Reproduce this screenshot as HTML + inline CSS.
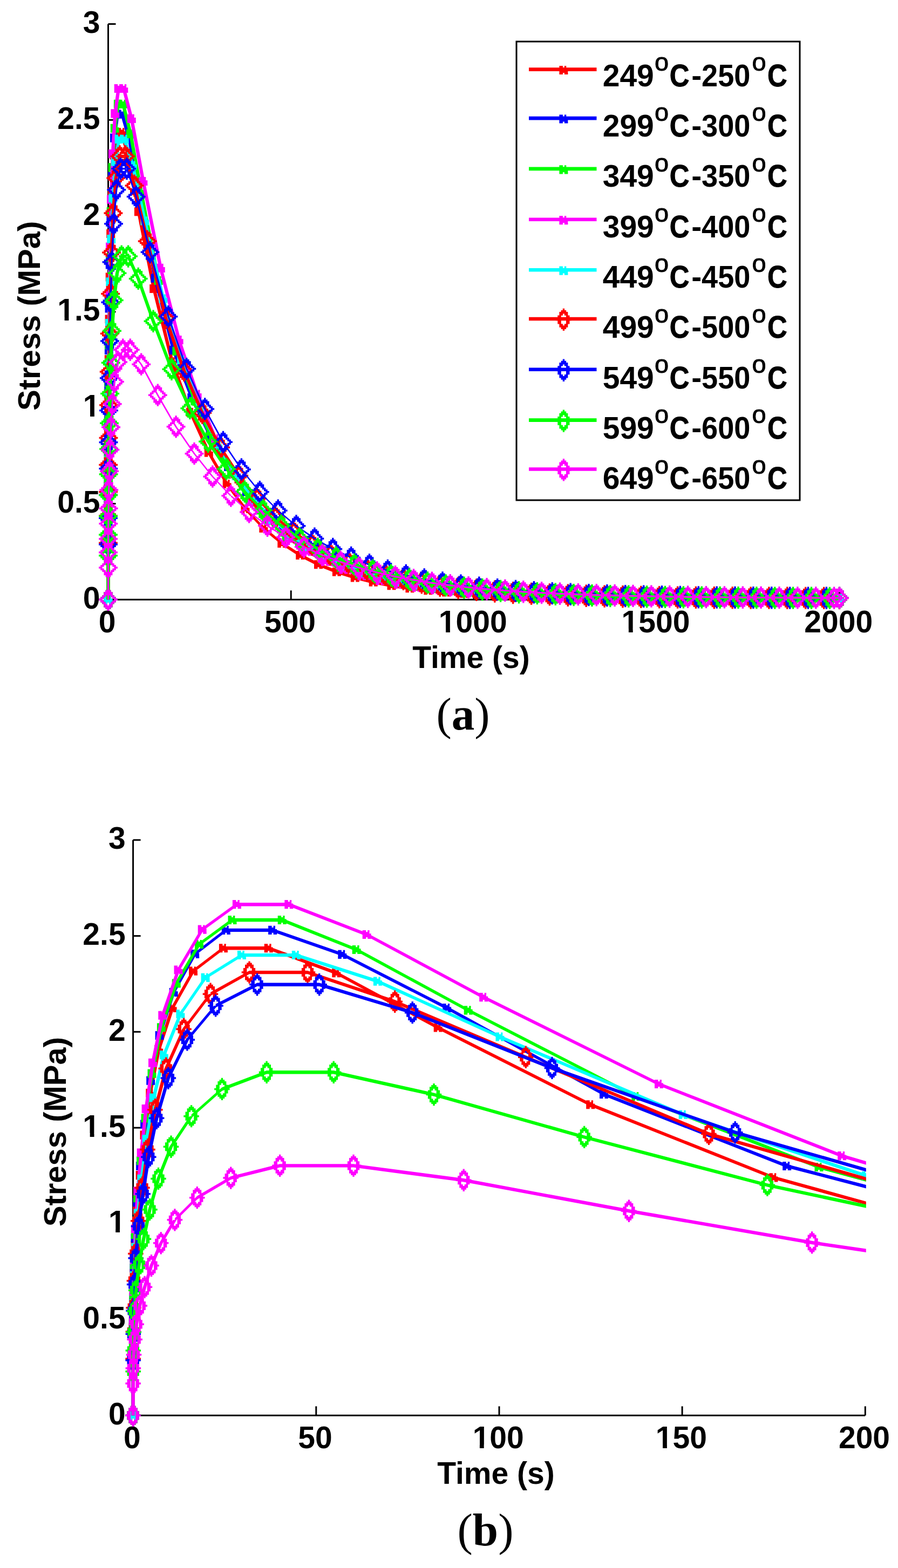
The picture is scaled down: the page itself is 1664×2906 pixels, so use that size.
<!DOCTYPE html>
<html><head><meta charset="utf-8"><title>Stress vs time</title><style>
html,body{margin:0;padding:0;background:#fff;}
body{width:1664px;height:2906px;overflow:hidden;}
svg{display:block;}
.ln{fill:none;stroke-width:6;stroke-linejoin:round;}

.ax{fill:none;stroke:#000;stroke-width:3;}
text{font-family:"Liberation Sans",Arial,Helvetica,sans-serif;font-weight:bold;fill:#000;}
.tk{font-size:57px;}
.lb{font-size:57px;}
.lby{font-size:58px;}
.lg{font-size:57px;}
.lgc{stroke:#000;stroke-width:1px;}
.dg{font-size:47px;font-weight:normal;stroke:#000;stroke-width:0.9px;}
.cap{font-family:"Liberation Serif","Times New Roman",serif;font-size:85px;font-weight:normal;}
.cap tspan.b{font-weight:bold;}
</style></head><body>
<svg width="1664" height="2906" viewBox="0 0 1664 2906">
<defs><clipPath id="c0" clipPathUnits="userSpaceOnUse"><rect x="143.8" y="692.2" width="51.7" height="73.7"/><rect x="167.1" y="765.4" width="7.8" height="25.8"/></clipPath><clipPath id="c1" clipPathUnits="userSpaceOnUse"><rect x="96.3" y="514.4" width="99.2" height="73.7"/><rect x="119.6" y="587.6" width="7.8" height="25.8"/><rect x="137" y="587.6" width="17.8" height="25.8"/><rect x="152.8" y="587.6" width="33.7" height="25.8"/></clipPath><clipPath id="c2" clipPathUnits="userSpaceOnUse"><rect x="802.8" y="1091.8" width="146.8" height="73.7"/><rect x="826.1" y="1165" width="7.8" height="25.8"/><rect x="843.5" y="1165" width="33.7" height="25.8"/><rect x="875.2" y="1165" width="33.7" height="25.8"/><rect x="906.9" y="1165" width="33.7" height="25.8"/></clipPath><clipPath id="c3" clipPathUnits="userSpaceOnUse"><rect x="1141.5" y="1091.8" width="146.8" height="73.7"/><rect x="1164.9" y="1165" width="7.8" height="25.8"/><rect x="1182.2" y="1165" width="33.7" height="25.8"/><rect x="1214" y="1165" width="33.7" height="25.8"/><rect x="1245.7" y="1165" width="33.7" height="25.8"/></clipPath><clipPath id="c4" clipPathUnits="userSpaceOnUse"><rect x="190.9" y="2204.3" width="51.7" height="73.7"/><rect x="214.2" y="2277.5" width="7.8" height="25.8"/></clipPath><clipPath id="c5" clipPathUnits="userSpaceOnUse"><rect x="143.4" y="2026.6" width="99.2" height="73.7"/><rect x="166.7" y="2099.7" width="7.8" height="25.8"/><rect x="184.1" y="2099.7" width="17.8" height="25.8"/><rect x="199.9" y="2099.7" width="33.7" height="25.8"/></clipPath><clipPath id="c6" clipPathUnits="userSpaceOnUse"><rect x="865.6" y="2603.8" width="115.1" height="73.7"/><rect x="888.9" y="2677" width="7.8" height="25.8"/><rect x="906.3" y="2677" width="33.7" height="25.8"/><rect x="938" y="2677" width="33.7" height="25.8"/></clipPath><clipPath id="c7" clipPathUnits="userSpaceOnUse"><rect x="1204.8" y="2603.8" width="115.1" height="73.7"/><rect x="1228.1" y="2677" width="7.8" height="25.8"/><rect x="1245.5" y="2677" width="33.7" height="25.8"/><rect x="1277.2" y="2677" width="33.7" height="25.8"/></clipPath></defs>
<defs><path id="mk" d="M-8 -8.1h6.5v3.5h-6.5ZM1.5 -8.1h3.4v3.5h-3.4ZM-8 -4.9h12.8v3.5h-12.8ZM-8 -1.8h15.9v3.5h-15.9ZM-8 1.4h15.9v3.5h-15.9ZM-8 4.5h6.5v3.5h-6.5ZM1.5 4.5h6.5v3.5h-6.5Z"/><path id="md" d="M-1.7 -20.7h3.4v3.5h-3.4ZM-4.8 -17.5h9.6v3.5h-9.6ZM-8 -14.4h15.9v3.5h-15.9ZM-8 -11.2h6.5v3.5h-6.5ZM1.5 -11.2h6.5v3.5h-6.5ZM-11.1 -8.1h6.5v3.5h-6.5ZM4.6 -8.1h6.5v3.5h-6.5ZM-11.1 -4.9h6.5v3.5h-6.5ZM4.6 -4.9h6.5v3.5h-6.5ZM-14.3 -1.8h9.6v3.5h-9.6ZM4.6 -1.8h9.6v3.5h-9.6ZM-11.1 1.4h6.5v3.5h-6.5ZM4.6 1.4h6.5v3.5h-6.5ZM-11.1 4.5h6.5v3.5h-6.5ZM4.6 4.5h6.5v3.5h-6.5ZM-8 7.7h6.5v3.5h-6.5ZM1.5 7.7h6.5v3.5h-6.5ZM-8 10.8h15.9v3.5h-15.9ZM-4.8 14h9.6v3.5h-9.6ZM-1.7 17.1h3.4v3.5h-3.4Z"/><path id="mda" d="M-1.7 -20.7h3.4v3.5h-3.4ZM-4.8 -17.5h9.6v3.5h-9.6ZM-8 -14.4h15.9v3.5h-15.9ZM-8 -11.2h6.5v3.5h-6.5ZM1.5 -11.2h6.5v3.5h-6.5ZM-11.1 -8.1h6.5v3.5h-6.5ZM4.6 -8.1h6.5v3.5h-6.5ZM-14.3 -4.9h6.5v3.5h-6.5ZM7.8 -4.9h6.5v3.5h-6.5ZM-17.4 -1.8h6.5v3.5h-6.5ZM10.9 -1.8h6.5v3.5h-6.5ZM-14.3 1.4h6.5v3.5h-6.5ZM7.8 1.4h6.5v3.5h-6.5ZM-11.1 4.5h6.5v3.5h-6.5ZM4.6 4.5h6.5v3.5h-6.5ZM-8 7.7h6.5v3.5h-6.5ZM1.5 7.7h6.5v3.5h-6.5ZM-8 10.8h15.9v3.5h-15.9ZM-4.8 14h9.6v3.5h-9.6ZM-1.7 17.1h3.4v3.5h-3.4Z"/>
<clipPath id="cb"><rect x="0" y="1400" width="1604.8" height="1300"/></clipPath></defs>
<rect width="1664" height="2906" fill="#fff"/>
<path class="ax" d="M200.5 44.5V1111.3H1555.5"/>
<path class="ax" d="M200.5 1111.3h14"/>
<text class="tk" x="185.5" y="1127.8" text-anchor="end">0</text>
<path class="ax" d="M200.5 933.5h14"/>
<text class="tk" x="185.5" y="950" text-anchor="end">0.5</text>
<path class="ax" d="M200.5 755.7h14"/>
<text class="tk" x="185.5" y="772.2" text-anchor="end" clip-path="url(#c0)">1</text>
<path class="ax" d="M200.5 577.9h14"/>
<text class="tk" x="185.5" y="594.4" text-anchor="end" clip-path="url(#c1)">1.5</text>
<path class="ax" d="M200.5 400.1h14"/>
<text class="tk" x="185.5" y="416.6" text-anchor="end">2</text>
<path class="ax" d="M200.5 222.3h14"/>
<text class="tk" x="185.5" y="238.8" text-anchor="end">2.5</text>
<path class="ax" d="M200.5 44.5h14"/>
<text class="tk" x="185.5" y="61" text-anchor="end">3</text>
<path class="ax" d="M200.5 1111.3v-17"/>
<text class="tk" x="198.7" y="1171.8" text-anchor="middle">0</text>
<path class="ax" d="M539.2 1111.3v-17"/>
<text class="tk" x="537.5" y="1171.8" text-anchor="middle">500</text>
<path class="ax" d="M878 1111.3v-17"/>
<text class="tk" x="876.2" y="1171.8" text-anchor="middle" clip-path="url(#c2)">1000</text>
<path class="ax" d="M1216.8 1111.3v-17"/>
<text class="tk" x="1215" y="1171.8" text-anchor="middle" clip-path="url(#c3)">1500</text>
<path class="ax" d="M1555.5 1111.3v-17"/>
<text class="tk" x="1553.7" y="1171.8" text-anchor="middle">2000</text>
<text class="lby" transform="translate(74.2 585.4) rotate(-90)" text-anchor="middle">Stress (MPa)</text>
<text class="lb" x="873" y="1237.8" text-anchor="middle">Time (s)</text>
<g fill="#ff0000"><path d="M197.3 1111.3L197.3 1000.4L203.7 1000.4L203.7 1111.3ZM197.3 1000.4L197.3 947.6L203.7 947.6L203.7 1000.4ZM197.3 947.6L197.4 900.8L203.8 900.8L203.7 947.6ZM197.4 900.8L197.5 848L203.9 848L203.8 900.8ZM197.5 848L197.7 795.1L204.1 795.1L203.9 848ZM197.7 795.1L198 731L204.4 731L204.1 795.1ZM198 731L198.6 666.1L205 666.1L204.4 731ZM198.6 666.1L199.4 591.6L205.8 591.6L205 666.1ZM199.4 591.6L200.5 513.6L206.9 513.6L205.8 591.6ZM200.5 513.6L202 433L208.4 433L206.9 513.6ZM202 433L204.6 355.9L211 355.9L208.4 433ZM204.6 355.9L208.4 287.5L214.8 287.5L211 355.9ZM208.4 287.5L214 245.1L220.4 245.1L214.8 287.5ZM217.2 241.9L225.6 241.9L225.6 248.3L217.2 248.3ZM222.4 245.1L234.9 291L241.3 291L228.8 245.1ZM234.9 291L253.7 392.3L260.1 392.3L241.3 291ZM253.7 392.3L282 535.1L288.4 535.1L260.1 392.3ZM282 535.1L315.8 670.3L322.2 670.3L288.4 535.1ZM315.8 670.3L349.7 764.1L356.1 764.1L322.2 670.3ZM349.7 764.1L383.6 838.7L390 838.7L356.1 764.1ZM383.6 838.7L417.5 897.1L423.9 897.1L390 838.7ZM417.5 897.1L451.3 943L457.7 943L423.9 897.1ZM451.3 943L485.2 978.9L491.6 978.9L457.7 943ZM488.4 975.7L522.3 1003.8L522.3 1010.2L488.4 982.1ZM522.3 1003.8L556.2 1025.8L556.2 1032.2L522.3 1010.2ZM556.2 1025.8L590 1043.1L590 1049.5L556.2 1032.2ZM590 1043.1L623.9 1056.6L623.9 1063L590 1049.5ZM623.9 1056.6L657.8 1067.2L657.8 1073.6L623.9 1063ZM657.8 1067.2L691.7 1075.5L691.7 1081.9L657.8 1073.6ZM691.7 1075.5L725.5 1082L725.5 1088.4L691.7 1081.9ZM725.5 1082L759.4 1087.1L759.4 1093.5L725.5 1088.4ZM759.4 1087.1L793.3 1091.1L793.3 1097.5L759.4 1093.5ZM793.3 1091.1L827.2 1094.3L827.2 1100.7L793.3 1097.5ZM827.2 1094.3L861 1096.7L861 1103.1L827.2 1100.7ZM861 1096.7L894.9 1098.6L894.9 1105L861 1103.1ZM894.9 1098.6L928.8 1100.2L928.8 1106.6L894.9 1105ZM928.8 1100.2L962.7 1101.3L962.7 1107.7L928.8 1106.6ZM962.7 1101.3L996.5 1102.3L996.5 1108.7L962.7 1107.7ZM996.5 1102.3L1030.4 1103L1030.4 1109.4L996.5 1108.7ZM1030.4 1103L1064.3 1103.6L1064.3 1110L1030.4 1109.4ZM1064.3 1103.6L1098.2 1104L1098.2 1110.4L1064.3 1110ZM1098.2 1104L1132 1104.3L1132 1110.7L1098.2 1110.4ZM1132 1104.3L1165.9 1104.6L1165.9 1111L1132 1110.7ZM1165.9 1104.6L1199.8 1104.8L1199.8 1111.2L1165.9 1111ZM1199.8 1104.8L1233.7 1105L1233.7 1111.4L1199.8 1111.2ZM1233.7 1105L1267.5 1105.1L1267.5 1111.5L1233.7 1111.4ZM1267.5 1105.1L1301.4 1105.2L1301.4 1111.6L1267.5 1111.5ZM1301.4 1105.2L1335.3 1105.3L1335.3 1111.7L1301.4 1111.6ZM1335.3 1105.3L1369.2 1105.4L1369.2 1111.8L1335.3 1111.7ZM1369.2 1105.4L1403 1105.4L1403 1111.8L1369.2 1111.8ZM1403 1105.4L1436.9 1105.5L1436.9 1111.9L1403 1111.8ZM1436.9 1105.5L1470.8 1105.5L1470.8 1111.9L1436.9 1111.9ZM1470.8 1105.5L1504.7 1105.5L1504.7 1111.9L1470.8 1111.9ZM1504.7 1105.5L1538.5 1105.5L1538.5 1111.9L1504.7 1111.9ZM1538.5 1105.5L1555.5 1105.6L1555.5 1112L1538.5 1111.9Z"/><g class="ms"><use href="#mk" x="200.5" y="1111.3"/><use href="#mk" x="200.5" y="1000.4"/><use href="#mk" x="200.5" y="947.6"/><use href="#mk" x="200.6" y="900.8"/><use href="#mk" x="200.7" y="848"/><use href="#mk" x="200.9" y="795.1"/><use href="#mk" x="201.2" y="731"/><use href="#mk" x="201.8" y="666.1"/><use href="#mk" x="202.6" y="591.6"/><use href="#mk" x="203.7" y="513.6"/><use href="#mk" x="205.2" y="433"/><use href="#mk" x="207.8" y="355.9"/><use href="#mk" x="211.6" y="287.5"/><use href="#mk" x="217.2" y="245.1"/><use href="#mk" x="225.6" y="245.1"/><use href="#mk" x="238.1" y="291"/><use href="#mk" x="256.9" y="392.3"/><use href="#mk" x="285.2" y="535.1"/><use href="#mk" x="319" y="670.3"/><use href="#mk" x="352.9" y="764.1"/><use href="#mk" x="386.8" y="838.7"/><use href="#mk" x="420.7" y="897.1"/><use href="#mk" x="454.5" y="943"/><use href="#mk" x="488.4" y="978.9"/><use href="#mk" x="522.3" y="1007"/><use href="#mk" x="556.2" y="1029"/><use href="#mk" x="590" y="1046.3"/><use href="#mk" x="623.9" y="1059.8"/><use href="#mk" x="657.8" y="1070.4"/><use href="#mk" x="691.7" y="1078.7"/><use href="#mk" x="725.5" y="1085.2"/><use href="#mk" x="759.4" y="1090.3"/><use href="#mk" x="793.3" y="1094.3"/><use href="#mk" x="827.2" y="1097.5"/><use href="#mk" x="861" y="1099.9"/><use href="#mk" x="894.9" y="1101.8"/><use href="#mk" x="928.8" y="1103.4"/><use href="#mk" x="962.7" y="1104.5"/><use href="#mk" x="996.5" y="1105.5"/><use href="#mk" x="1030.4" y="1106.2"/><use href="#mk" x="1064.3" y="1106.8"/><use href="#mk" x="1098.2" y="1107.2"/><use href="#mk" x="1132" y="1107.5"/><use href="#mk" x="1165.9" y="1107.8"/><use href="#mk" x="1199.8" y="1108"/><use href="#mk" x="1233.7" y="1108.2"/><use href="#mk" x="1267.5" y="1108.3"/><use href="#mk" x="1301.4" y="1108.4"/><use href="#mk" x="1335.3" y="1108.5"/><use href="#mk" x="1369.2" y="1108.6"/><use href="#mk" x="1403" y="1108.6"/><use href="#mk" x="1436.9" y="1108.7"/><use href="#mk" x="1470.8" y="1108.7"/><use href="#mk" x="1504.7" y="1108.7"/><use href="#mk" x="1538.5" y="1108.7"/><use href="#mk" x="1555.5" y="1108.8"/></g></g>
<g fill="#0000ff"><path d="M197.3 1111.3L197.3 996.1L203.7 996.1L203.7 1111.3ZM197.3 996.1L197.3 941.3L203.7 941.3L203.7 996.1ZM197.3 941.3L197.4 892.7L203.8 892.7L203.7 941.3ZM197.4 892.7L197.5 837.8L203.9 837.8L203.8 892.7ZM197.5 837.8L197.7 782.9L204.1 782.9L203.9 837.8ZM197.7 782.9L198.1 716.3L204.5 716.3L204.1 782.9ZM198.1 716.3L198.7 648.9L205.1 648.9L204.5 716.3ZM198.7 648.9L199.4 571.5L205.8 571.5L205.1 648.9ZM199.4 571.5L200.6 490.5L207 490.5L205.8 571.5ZM200.6 490.5L202.2 406.9L208.6 406.9L207 490.5ZM202.2 406.9L204.8 326.8L211.2 326.8L208.6 406.9ZM204.8 326.8L208.8 255.7L215.2 255.7L211.2 326.8ZM208.8 255.7L214.5 211.6L220.9 211.6L215.2 255.7ZM217.7 208.4L226.3 208.4L226.3 214.8L217.7 214.8ZM223.1 211.6L236 256.6L242.4 256.6L229.5 211.6ZM236 256.6L255.4 355.8L261.8 355.8L242.4 256.6ZM255.4 355.8L284.4 515.7L290.8 515.7L261.8 355.8ZM284.4 515.7L318.3 648.9L324.7 648.9L290.8 515.7ZM318.3 648.9L352.2 737.2L358.6 737.2L324.7 648.9ZM352.2 737.2L386.1 807.9L392.5 807.9L358.6 737.2ZM386.1 807.9L419.9 865.1L426.3 865.1L392.5 807.9ZM419.9 865.1L453.8 911.5L460.2 911.5L426.3 865.1ZM453.8 911.5L487.7 949L494.1 949L460.2 911.5ZM490.9 945.8L524.8 976.2L524.8 982.6L490.9 952.2ZM524.8 976.2L558.6 1000.8L558.6 1007.2L524.8 982.6ZM558.6 1000.8L592.5 1020.8L592.5 1027.2L558.6 1007.2ZM592.5 1020.8L626.4 1036.9L626.4 1043.3L592.5 1027.2ZM626.4 1036.9L660.3 1050L660.3 1056.4L626.4 1043.3ZM660.3 1050L694.1 1060.5L694.1 1066.9L660.3 1056.4ZM694.1 1060.5L728 1069.1L728 1075.5L694.1 1066.9ZM728 1069.1L761.9 1076.1L761.9 1082.5L728 1075.5ZM761.9 1076.1L795.8 1081.7L795.8 1088.1L761.9 1082.5ZM795.8 1081.7L829.6 1086.2L829.6 1092.6L795.8 1088.1ZM829.6 1086.2L863.5 1089.9L863.5 1096.3L829.6 1092.6ZM863.5 1089.9L897.4 1092.9L897.4 1099.3L863.5 1096.3ZM897.4 1092.9L931.3 1095.3L931.3 1101.7L897.4 1099.3ZM931.3 1095.3L965.1 1097.3L965.1 1103.7L931.3 1101.7ZM965.1 1097.3L999 1098.9L999 1105.3L965.1 1103.7ZM999 1098.9L1032.9 1100.1L1032.9 1106.5L999 1105.3ZM1032.9 1100.1L1066.8 1101.2L1066.8 1107.6L1032.9 1106.5ZM1066.8 1101.2L1100.6 1102L1100.6 1108.4L1066.8 1107.6ZM1100.6 1102L1134.5 1102.7L1134.5 1109.1L1100.6 1108.4ZM1134.5 1102.7L1168.4 1103.3L1168.4 1109.7L1134.5 1109.1ZM1168.4 1103.3L1202.3 1103.7L1202.3 1110.1L1168.4 1109.7ZM1202.3 1103.7L1236.1 1104.1L1236.1 1110.5L1202.3 1110.1ZM1236.1 1104.1L1270 1104.4L1270 1110.8L1236.1 1110.5ZM1270 1104.4L1303.9 1104.6L1303.9 1111L1270 1110.8ZM1303.9 1104.6L1337.8 1104.8L1337.8 1111.2L1303.9 1111ZM1337.8 1104.8L1371.6 1104.9L1371.6 1111.3L1337.8 1111.2ZM1371.6 1104.9L1405.5 1105.1L1405.5 1111.5L1371.6 1111.3ZM1405.5 1105.1L1439.4 1105.2L1439.4 1111.6L1405.5 1111.5ZM1439.4 1105.2L1473.3 1105.3L1473.3 1111.7L1439.4 1111.6ZM1473.3 1105.3L1507.1 1105.3L1507.1 1111.7L1473.3 1111.7ZM1507.1 1105.3L1541 1105.4L1541 1111.8L1507.1 1111.7ZM1541 1105.4L1555.5 1105.4L1555.5 1111.8L1541 1111.8Z"/><g class="ms"><use href="#mk" x="200.5" y="1111.3"/><use href="#mk" x="200.5" y="996.1"/><use href="#mk" x="200.5" y="941.3"/><use href="#mk" x="200.6" y="892.7"/><use href="#mk" x="200.7" y="837.8"/><use href="#mk" x="200.9" y="782.9"/><use href="#mk" x="201.3" y="716.3"/><use href="#mk" x="201.9" y="648.9"/><use href="#mk" x="202.6" y="571.5"/><use href="#mk" x="203.8" y="490.5"/><use href="#mk" x="205.4" y="406.9"/><use href="#mk" x="208" y="326.8"/><use href="#mk" x="212" y="255.7"/><use href="#mk" x="217.7" y="211.6"/><use href="#mk" x="226.3" y="211.6"/><use href="#mk" x="239.2" y="256.6"/><use href="#mk" x="258.6" y="355.8"/><use href="#mk" x="287.6" y="515.7"/><use href="#mk" x="321.5" y="648.9"/><use href="#mk" x="355.4" y="737.2"/><use href="#mk" x="389.3" y="807.9"/><use href="#mk" x="423.1" y="865.1"/><use href="#mk" x="457" y="911.5"/><use href="#mk" x="490.9" y="949"/><use href="#mk" x="524.8" y="979.4"/><use href="#mk" x="558.6" y="1004"/><use href="#mk" x="592.5" y="1024"/><use href="#mk" x="626.4" y="1040.1"/><use href="#mk" x="660.3" y="1053.2"/><use href="#mk" x="694.1" y="1063.7"/><use href="#mk" x="728" y="1072.3"/><use href="#mk" x="761.9" y="1079.3"/><use href="#mk" x="795.8" y="1084.9"/><use href="#mk" x="829.6" y="1089.4"/><use href="#mk" x="863.5" y="1093.1"/><use href="#mk" x="897.4" y="1096.1"/><use href="#mk" x="931.3" y="1098.5"/><use href="#mk" x="965.1" y="1100.5"/><use href="#mk" x="999" y="1102.1"/><use href="#mk" x="1032.9" y="1103.3"/><use href="#mk" x="1066.8" y="1104.4"/><use href="#mk" x="1100.6" y="1105.2"/><use href="#mk" x="1134.5" y="1105.9"/><use href="#mk" x="1168.4" y="1106.5"/><use href="#mk" x="1202.3" y="1106.9"/><use href="#mk" x="1236.1" y="1107.3"/><use href="#mk" x="1270" y="1107.6"/><use href="#mk" x="1303.9" y="1107.8"/><use href="#mk" x="1337.8" y="1108"/><use href="#mk" x="1371.6" y="1108.1"/><use href="#mk" x="1405.5" y="1108.3"/><use href="#mk" x="1439.4" y="1108.4"/><use href="#mk" x="1473.3" y="1108.5"/><use href="#mk" x="1507.1" y="1108.5"/><use href="#mk" x="1541" y="1108.6"/><use href="#mk" x="1555.5" y="1108.6"/></g></g>
<g fill="#00ff00"><path d="M197.3 1111.3L197.3 993.7L203.7 993.7L203.7 1111.3ZM197.3 993.7L197.3 937.7L203.7 937.7L203.7 993.7ZM197.3 937.7L197.4 888.1L203.8 888.1L203.7 937.7ZM197.4 888.1L197.5 832.1L203.9 832.1L203.8 888.1ZM197.5 832.1L197.7 776L204.1 776L203.9 832.1ZM197.7 776L198.1 708.1L204.5 708.1L204.1 776ZM198.1 708.1L198.7 639.2L205.1 639.2L204.5 708.1ZM198.7 639.2L199.6 560.2L206 560.2L205.1 639.2ZM199.6 560.2L200.8 477.5L207.2 477.5L206 560.2ZM200.8 477.5L202.5 392.1L208.9 392.1L207.2 477.5ZM202.5 392.1L205.3 310.4L211.7 310.4L208.9 392.1ZM205.3 310.4L209.5 237.8L215.9 237.8L211.7 310.4ZM209.5 237.8L215.7 192.8L222.1 192.8L215.9 237.8ZM218.9 189.6L228.1 189.6L228.1 196L218.9 196ZM224.9 192.8L238.7 247.9L245.1 247.9L231.3 192.8ZM238.7 247.9L259.3 360.2L265.7 360.2L245.1 247.9ZM259.3 360.2L290.4 519.9L296.8 519.9L265.7 360.2ZM290.4 519.9L324.2 650.9L330.6 650.9L296.8 519.9ZM324.2 650.9L358.1 743.3L364.5 743.3L330.6 650.9ZM358.1 743.3L392 819.1L398.4 819.1L364.5 743.3ZM392 819.1L425.9 879.2L432.3 879.2L398.4 819.1ZM425.9 879.2L459.7 926.9L466.1 926.9L432.3 879.2ZM459.7 926.9L493.6 964.6L500 964.6L466.1 926.9ZM496.8 961.4L530.7 991.3L530.7 997.7L496.8 967.8ZM530.7 991.3L564.6 1015L564.6 1021.4L530.7 997.7ZM564.6 1015L598.4 1033.8L598.4 1040.2L564.6 1021.4ZM598.4 1033.8L632.3 1048.7L632.3 1055.1L598.4 1040.2ZM632.3 1048.7L666.2 1060.5L666.2 1066.9L632.3 1055.1ZM666.2 1060.5L700.1 1069.9L700.1 1076.3L666.2 1066.9ZM700.1 1069.9L733.9 1077.3L733.9 1083.7L700.1 1076.3ZM733.9 1077.3L767.8 1083.2L767.8 1089.6L733.9 1083.7ZM767.8 1083.2L801.7 1087.8L801.7 1094.2L767.8 1089.6ZM801.7 1087.8L835.6 1091.5L835.6 1097.9L801.7 1094.2ZM835.6 1091.5L869.4 1094.4L869.4 1100.8L835.6 1097.9ZM869.4 1094.4L903.3 1096.8L903.3 1103.2L869.4 1100.8ZM903.3 1096.8L937.2 1098.6L937.2 1105L903.3 1103.2ZM937.2 1098.6L971.1 1100.1L971.1 1106.5L937.2 1105ZM971.1 1100.1L1004.9 1101.2L1004.9 1107.6L971.1 1106.5ZM1004.9 1101.2L1038.8 1102.1L1038.8 1108.5L1004.9 1107.6ZM1038.8 1102.1L1072.7 1102.8L1072.7 1109.2L1038.8 1108.5ZM1072.7 1102.8L1106.6 1103.4L1106.6 1109.8L1072.7 1109.2ZM1106.6 1103.4L1140.4 1103.9L1140.4 1110.3L1106.6 1109.8ZM1140.4 1103.9L1174.3 1104.2L1174.3 1110.6L1140.4 1110.3ZM1174.3 1104.2L1208.2 1104.5L1208.2 1110.9L1174.3 1110.6ZM1208.2 1104.5L1242.1 1104.7L1242.1 1111.1L1208.2 1110.9ZM1242.1 1104.7L1275.9 1104.9L1275.9 1111.3L1242.1 1111.1ZM1275.9 1104.9L1309.8 1105.1L1309.8 1111.5L1275.9 1111.3ZM1309.8 1105.1L1343.7 1105.2L1343.7 1111.6L1309.8 1111.5ZM1343.7 1105.2L1377.6 1105.3L1377.6 1111.7L1343.7 1111.6ZM1377.6 1105.3L1411.4 1105.3L1411.4 1111.7L1377.6 1111.7ZM1411.4 1105.3L1445.3 1105.4L1445.3 1111.8L1411.4 1111.7ZM1445.3 1105.4L1479.2 1105.4L1479.2 1111.8L1445.3 1111.8ZM1479.2 1105.4L1513.1 1105.5L1513.1 1111.9L1479.2 1111.8ZM1513.1 1105.5L1546.9 1105.5L1546.9 1111.9L1513.1 1111.9ZM1546.9 1105.5L1555.5 1105.5L1555.5 1111.9L1546.9 1111.9Z"/><g class="ms"><use href="#mk" x="200.5" y="1111.3"/><use href="#mk" x="200.5" y="993.7"/><use href="#mk" x="200.5" y="937.7"/><use href="#mk" x="200.6" y="888.1"/><use href="#mk" x="200.7" y="832.1"/><use href="#mk" x="200.9" y="776"/><use href="#mk" x="201.3" y="708.1"/><use href="#mk" x="201.9" y="639.2"/><use href="#mk" x="202.8" y="560.2"/><use href="#mk" x="204" y="477.5"/><use href="#mk" x="205.7" y="392.1"/><use href="#mk" x="208.5" y="310.4"/><use href="#mk" x="212.7" y="237.8"/><use href="#mk" x="218.9" y="192.8"/><use href="#mk" x="228.1" y="192.8"/><use href="#mk" x="241.9" y="247.9"/><use href="#mk" x="262.5" y="360.2"/><use href="#mk" x="293.6" y="519.9"/><use href="#mk" x="327.4" y="650.9"/><use href="#mk" x="361.3" y="743.3"/><use href="#mk" x="395.2" y="819.1"/><use href="#mk" x="429.1" y="879.2"/><use href="#mk" x="462.9" y="926.9"/><use href="#mk" x="496.8" y="964.6"/><use href="#mk" x="530.7" y="994.5"/><use href="#mk" x="564.6" y="1018.2"/><use href="#mk" x="598.4" y="1037"/><use href="#mk" x="632.3" y="1051.9"/><use href="#mk" x="666.2" y="1063.7"/><use href="#mk" x="700.1" y="1073.1"/><use href="#mk" x="733.9" y="1080.5"/><use href="#mk" x="767.8" y="1086.4"/><use href="#mk" x="801.7" y="1091"/><use href="#mk" x="835.6" y="1094.7"/><use href="#mk" x="869.4" y="1097.6"/><use href="#mk" x="903.3" y="1100"/><use href="#mk" x="937.2" y="1101.8"/><use href="#mk" x="971.1" y="1103.3"/><use href="#mk" x="1004.9" y="1104.4"/><use href="#mk" x="1038.8" y="1105.3"/><use href="#mk" x="1072.7" y="1106"/><use href="#mk" x="1106.6" y="1106.6"/><use href="#mk" x="1140.4" y="1107.1"/><use href="#mk" x="1174.3" y="1107.4"/><use href="#mk" x="1208.2" y="1107.7"/><use href="#mk" x="1242.1" y="1107.9"/><use href="#mk" x="1275.9" y="1108.1"/><use href="#mk" x="1309.8" y="1108.3"/><use href="#mk" x="1343.7" y="1108.4"/><use href="#mk" x="1377.6" y="1108.5"/><use href="#mk" x="1411.4" y="1108.5"/><use href="#mk" x="1445.3" y="1108.6"/><use href="#mk" x="1479.2" y="1108.6"/><use href="#mk" x="1513.1" y="1108.7"/><use href="#mk" x="1546.9" y="1108.7"/><use href="#mk" x="1555.5" y="1108.7"/></g></g>
<g fill="#ff00ff"><path d="M197.3 1111.3L197.3 990L203.7 990L203.7 1111.3ZM197.3 990L197.3 932.3L203.7 932.3L203.7 990ZM197.3 932.3L197.4 881.1L203.8 881.1L203.7 932.3ZM197.4 881.1L197.5 823.3L203.9 823.3L203.8 881.1ZM197.5 823.3L197.7 765.5L204.1 765.5L203.9 823.3ZM197.7 765.5L198.2 695.4L204.6 695.4L204.1 765.5ZM198.2 695.4L198.8 624.4L205.2 624.4L204.6 695.4ZM198.8 624.4L199.7 542.9L206.1 542.9L205.2 624.4ZM199.7 542.9L200.9 457.7L207.3 457.7L206.1 542.9ZM200.9 457.7L202.8 369.5L209.2 369.5L207.3 457.7ZM202.8 369.5L205.7 285.2L212.1 285.2L209.2 369.5ZM205.7 285.2L210.1 210.4L216.5 210.4L212.1 285.2ZM210.1 210.4L216.5 164L222.9 164L216.5 210.4ZM219.7 160.8L229.3 160.8L229.3 167.2L219.7 167.2ZM226.1 164L240.6 219.9L247 219.9L232.5 164ZM240.6 219.9L262.2 336L268.6 336L247 219.9ZM262.2 336L294.6 496.9L301 496.9L268.6 336ZM294.6 496.9L328.5 630.1L334.9 630.1L301 496.9ZM328.5 630.1L362.4 730.7L368.8 730.7L334.9 630.1ZM362.4 730.7L396.2 812.9L402.6 812.9L368.8 730.7ZM396.2 812.9L430.1 877.2L436.5 877.2L402.6 812.9ZM430.1 877.2L464 927.6L470.4 927.6L436.5 877.2ZM464 927.6L497.9 967L504.3 967L470.4 927.6ZM501.1 963.8L534.9 994.6L534.9 1001L501.1 970.2ZM534.9 994.6L568.8 1018.7L568.8 1025.1L534.9 1001ZM568.8 1018.7L602.7 1037.6L602.7 1044L568.8 1025.1ZM602.7 1037.6L636.6 1052.4L636.6 1058.8L602.7 1044ZM636.6 1052.4L670.4 1064L670.4 1070.4L636.6 1058.8ZM670.4 1064L704.3 1073L704.3 1079.4L670.4 1070.4ZM704.3 1073L738.2 1080.1L738.2 1086.5L704.3 1079.4ZM738.2 1080.1L772.1 1085.6L772.1 1092L738.2 1086.5ZM772.1 1085.6L805.9 1090L805.9 1096.4L772.1 1092ZM805.9 1090L839.8 1093.4L839.8 1099.8L805.9 1096.4ZM839.8 1093.4L873.7 1096L873.7 1102.4L839.8 1099.8ZM873.7 1096L907.6 1098.1L907.6 1104.5L873.7 1102.4ZM907.6 1098.1L941.4 1099.7L941.4 1106.1L907.6 1104.5ZM941.4 1099.7L975.3 1101L975.3 1107.4L941.4 1106.1ZM975.3 1101L1009.2 1102L1009.2 1108.4L975.3 1107.4ZM1009.2 1102L1043.1 1102.8L1043.1 1109.2L1009.2 1108.4ZM1043.1 1102.8L1076.9 1103.4L1076.9 1109.8L1043.1 1109.2ZM1076.9 1103.4L1110.8 1103.9L1110.8 1110.3L1076.9 1109.8ZM1110.8 1103.9L1144.7 1104.3L1144.7 1110.7L1110.8 1110.3ZM1144.7 1104.3L1178.6 1104.6L1178.6 1111L1144.7 1110.7ZM1178.6 1104.6L1212.4 1104.8L1212.4 1111.2L1178.6 1111ZM1212.4 1104.8L1246.3 1105L1246.3 1111.4L1212.4 1111.2ZM1246.3 1105L1280.2 1105.1L1280.2 1111.5L1246.3 1111.4ZM1280.2 1105.1L1314.1 1105.2L1314.1 1111.6L1280.2 1111.5ZM1314.1 1105.2L1347.9 1105.3L1347.9 1111.7L1314.1 1111.6ZM1347.9 1105.3L1381.8 1105.4L1381.8 1111.8L1347.9 1111.7ZM1381.8 1105.4L1415.7 1105.4L1415.7 1111.8L1381.8 1111.8ZM1415.7 1105.4L1449.6 1105.5L1449.6 1111.9L1415.7 1111.8ZM1449.6 1105.5L1483.4 1105.5L1483.4 1111.9L1449.6 1111.9ZM1483.4 1105.5L1517.3 1105.5L1517.3 1111.9L1483.4 1111.9ZM1517.3 1105.5L1551.2 1105.5L1551.2 1111.9L1517.3 1111.9ZM1551.2 1105.5L1555.5 1105.5L1555.5 1111.9L1551.2 1111.9Z"/><g class="ms"><use href="#mk" x="200.5" y="1111.3"/><use href="#mk" x="200.5" y="990"/><use href="#mk" x="200.5" y="932.3"/><use href="#mk" x="200.6" y="881.1"/><use href="#mk" x="200.7" y="823.3"/><use href="#mk" x="200.9" y="765.5"/><use href="#mk" x="201.4" y="695.4"/><use href="#mk" x="202" y="624.4"/><use href="#mk" x="202.9" y="542.9"/><use href="#mk" x="204.1" y="457.7"/><use href="#mk" x="206" y="369.5"/><use href="#mk" x="208.9" y="285.2"/><use href="#mk" x="213.3" y="210.4"/><use href="#mk" x="219.7" y="164"/><use href="#mk" x="229.3" y="164"/><use href="#mk" x="243.8" y="219.9"/><use href="#mk" x="265.4" y="336"/><use href="#mk" x="297.8" y="496.9"/><use href="#mk" x="331.7" y="630.1"/><use href="#mk" x="365.6" y="730.7"/><use href="#mk" x="399.4" y="812.9"/><use href="#mk" x="433.3" y="877.2"/><use href="#mk" x="467.2" y="927.6"/><use href="#mk" x="501.1" y="967"/><use href="#mk" x="534.9" y="997.8"/><use href="#mk" x="568.8" y="1021.9"/><use href="#mk" x="602.7" y="1040.8"/><use href="#mk" x="636.6" y="1055.6"/><use href="#mk" x="670.4" y="1067.2"/><use href="#mk" x="704.3" y="1076.2"/><use href="#mk" x="738.2" y="1083.3"/><use href="#mk" x="772.1" y="1088.8"/><use href="#mk" x="805.9" y="1093.2"/><use href="#mk" x="839.8" y="1096.6"/><use href="#mk" x="873.7" y="1099.2"/><use href="#mk" x="907.6" y="1101.3"/><use href="#mk" x="941.4" y="1102.9"/><use href="#mk" x="975.3" y="1104.2"/><use href="#mk" x="1009.2" y="1105.2"/><use href="#mk" x="1043.1" y="1106"/><use href="#mk" x="1076.9" y="1106.6"/><use href="#mk" x="1110.8" y="1107.1"/><use href="#mk" x="1144.7" y="1107.5"/><use href="#mk" x="1178.6" y="1107.8"/><use href="#mk" x="1212.4" y="1108"/><use href="#mk" x="1246.3" y="1108.2"/><use href="#mk" x="1280.2" y="1108.3"/><use href="#mk" x="1314.1" y="1108.4"/><use href="#mk" x="1347.9" y="1108.5"/><use href="#mk" x="1381.8" y="1108.6"/><use href="#mk" x="1415.7" y="1108.6"/><use href="#mk" x="1449.6" y="1108.7"/><use href="#mk" x="1483.4" y="1108.7"/><use href="#mk" x="1517.3" y="1108.7"/><use href="#mk" x="1551.2" y="1108.7"/><use href="#mk" x="1555.5" y="1108.7"/></g></g>
<g fill="#00ffff"><path d="M197.3 1111.3L197.3 1002.1L203.7 1002.1L203.7 1111.3ZM197.3 1002.1L197.3 950L203.7 950L203.7 1002.1ZM197.3 950L197.4 903.9L203.8 903.9L203.7 950ZM197.4 903.9L197.5 851.9L203.9 851.9L203.8 903.9ZM197.5 851.9L197.8 799.8L204.2 799.8L203.9 851.9ZM197.8 799.8L198.2 736.6L204.6 736.6L204.2 799.8ZM198.2 736.6L198.9 672.6L205.3 672.6L204.6 736.6ZM198.9 672.6L199.8 599.2L206.2 599.2L205.3 672.6ZM199.8 599.2L201.1 522.4L207.5 522.4L206.2 599.2ZM201.1 522.4L203 443.1L209.4 443.1L207.5 522.4ZM203 443.1L206.1 367.1L212.5 367.1L209.4 443.1ZM206.1 367.1L210.7 299.7L217.1 299.7L212.5 367.1ZM210.7 299.7L217.4 257.9L223.8 257.9L217.1 299.7ZM220.6 254.7L230.7 254.7L230.7 261.1L220.6 261.1ZM227.5 257.9L242.6 306.5L249 306.5L233.9 257.9ZM242.6 306.5L265.2 409.4L271.6 409.4L249 306.5ZM265.2 409.4L299.1 553.6L305.5 553.6L271.6 409.4ZM299.1 553.6L333 666.9L339.4 666.9L305.5 553.6ZM333 666.9L366.8 755L373.2 755L339.4 666.9ZM366.8 755L400.7 825.5L407.1 825.5L373.2 755ZM400.7 825.5L434.6 881.9L441 881.9L407.1 825.5ZM434.6 881.9L468.5 927.1L474.9 927.1L441 881.9ZM468.5 927.1L502.3 963.3L508.7 963.3L474.9 927.1ZM505.5 960.1L539.4 989.1L539.4 995.5L505.5 966.5ZM539.4 989.1L573.3 1012.3L573.3 1018.7L539.4 995.5ZM573.3 1012.3L607.2 1030.9L607.2 1037.3L573.3 1018.7ZM607.2 1030.9L641 1045.8L641 1052.2L607.2 1037.3ZM641 1045.8L674.9 1057.7L674.9 1064.1L641 1052.2ZM674.9 1057.7L708.8 1067.3L708.8 1073.7L674.9 1064.1ZM708.8 1067.3L742.7 1074.9L742.7 1081.3L708.8 1073.7ZM742.7 1074.9L776.5 1081L776.5 1087.4L742.7 1081.3ZM776.5 1081L810.4 1085.9L810.4 1092.3L776.5 1087.4ZM810.4 1085.9L844.3 1089.8L844.3 1096.2L810.4 1092.3ZM844.3 1089.8L878.2 1093L878.2 1099.4L844.3 1096.2ZM878.2 1093L912 1095.5L912 1101.9L878.2 1099.4ZM912 1095.5L945.9 1097.5L945.9 1103.9L912 1101.9ZM945.9 1097.5L979.8 1099.1L979.8 1105.5L945.9 1103.9ZM979.8 1099.1L1013.7 1100.4L1013.7 1106.8L979.8 1105.5ZM1013.7 1100.4L1047.5 1101.5L1047.5 1107.9L1013.7 1106.8ZM1047.5 1101.5L1081.4 1102.3L1081.4 1108.7L1047.5 1107.9ZM1081.4 1102.3L1115.3 1102.9L1115.3 1109.3L1081.4 1108.7ZM1115.3 1102.9L1149.2 1103.5L1149.2 1109.9L1115.3 1109.3ZM1149.2 1103.5L1183 1103.9L1183 1110.3L1149.2 1109.9ZM1183 1103.9L1216.9 1104.2L1216.9 1110.6L1183 1110.3ZM1216.9 1104.2L1250.8 1104.5L1250.8 1110.9L1216.9 1110.6ZM1250.8 1104.5L1284.7 1104.7L1284.7 1111.1L1250.8 1110.9ZM1284.7 1104.7L1318.5 1104.9L1318.5 1111.3L1284.7 1111.1ZM1318.5 1104.9L1352.4 1105L1352.4 1111.4L1318.5 1111.3ZM1352.4 1105L1386.3 1105.2L1386.3 1111.6L1352.4 1111.4ZM1386.3 1105.2L1420.2 1105.3L1420.2 1111.7L1386.3 1111.6ZM1420.2 1105.3L1454 1105.3L1454 1111.7L1420.2 1111.7ZM1454 1105.3L1487.9 1105.4L1487.9 1111.8L1454 1111.7ZM1487.9 1105.4L1521.8 1105.4L1521.8 1111.8L1487.9 1111.8ZM1521.8 1105.4L1555.5 1105.5L1555.5 1111.9L1521.8 1111.8Z"/><g class="ms"><use href="#mk" x="200.5" y="1111.3"/><use href="#mk" x="200.5" y="1002.1"/><use href="#mk" x="200.5" y="950"/><use href="#mk" x="200.6" y="903.9"/><use href="#mk" x="200.7" y="851.9"/><use href="#mk" x="201" y="799.8"/><use href="#mk" x="201.4" y="736.6"/><use href="#mk" x="202.1" y="672.6"/><use href="#mk" x="203" y="599.2"/><use href="#mk" x="204.3" y="522.4"/><use href="#mk" x="206.2" y="443.1"/><use href="#mk" x="209.3" y="367.1"/><use href="#mk" x="213.9" y="299.7"/><use href="#mk" x="220.6" y="257.9"/><use href="#mk" x="230.7" y="257.9"/><use href="#mk" x="245.8" y="306.5"/><use href="#mk" x="268.4" y="409.4"/><use href="#mk" x="302.3" y="553.6"/><use href="#mk" x="336.2" y="666.9"/><use href="#mk" x="370" y="755"/><use href="#mk" x="403.9" y="825.5"/><use href="#mk" x="437.8" y="881.9"/><use href="#mk" x="471.7" y="927.1"/><use href="#mk" x="505.5" y="963.3"/><use href="#mk" x="539.4" y="992.3"/><use href="#mk" x="573.3" y="1015.5"/><use href="#mk" x="607.2" y="1034.1"/><use href="#mk" x="641" y="1049"/><use href="#mk" x="674.9" y="1060.9"/><use href="#mk" x="708.8" y="1070.5"/><use href="#mk" x="742.7" y="1078.1"/><use href="#mk" x="776.5" y="1084.2"/><use href="#mk" x="810.4" y="1089.1"/><use href="#mk" x="844.3" y="1093"/><use href="#mk" x="878.2" y="1096.2"/><use href="#mk" x="912" y="1098.7"/><use href="#mk" x="945.9" y="1100.7"/><use href="#mk" x="979.8" y="1102.3"/><use href="#mk" x="1013.7" y="1103.6"/><use href="#mk" x="1047.5" y="1104.7"/><use href="#mk" x="1081.4" y="1105.5"/><use href="#mk" x="1115.3" y="1106.1"/><use href="#mk" x="1149.2" y="1106.7"/><use href="#mk" x="1183" y="1107.1"/><use href="#mk" x="1216.9" y="1107.4"/><use href="#mk" x="1250.8" y="1107.7"/><use href="#mk" x="1284.7" y="1107.9"/><use href="#mk" x="1318.5" y="1108.1"/><use href="#mk" x="1352.4" y="1108.2"/><use href="#mk" x="1386.3" y="1108.4"/><use href="#mk" x="1420.2" y="1108.5"/><use href="#mk" x="1454" y="1108.5"/><use href="#mk" x="1487.9" y="1108.6"/><use href="#mk" x="1521.8" y="1108.6"/><use href="#mk" x="1555.5" y="1108.7"/></g></g>
<g fill="#ff0000"><path d="M197.3 1111.3L197.3 1006.2L203.7 1006.2L203.7 1111.3ZM197.3 1006.2L197.3 956L203.7 956L203.7 1006.2ZM197.3 956L197.4 911.7L203.8 911.7L203.7 956ZM197.4 911.7L197.5 861.6L203.9 861.6L203.8 911.7ZM197.5 861.6L197.8 811.5L204.2 811.5L203.9 861.6ZM197.8 811.5L198.3 750.7L204.7 750.7L204.2 811.5ZM198.3 750.7L199 689.1L205.4 689.1L204.7 750.7ZM199 689.1L200 618.4L206.4 618.4L205.4 689.1ZM200 618.4L201.4 544.5L207.8 544.5L206.4 618.4ZM201.4 544.5L203.4 468.1L209.8 468.1L207.8 544.5ZM203.4 468.1L206.7 395L213.1 395L209.8 468.1ZM206.7 395L211.6 330.1L218 330.1L213.1 395ZM211.6 330.1L218.8 289.9L225.2 289.9L218 330.1ZM222 286.7L232.8 286.7L232.8 293.1L222 293.1ZM229.6 289.9L245.8 344.1L252.2 344.1L236 289.9ZM245.8 344.1L270 447.1L276.4 447.1L252.2 344.1ZM270 447.1L303.9 589.3L310.3 589.3L276.4 447.1ZM303.9 589.3L337.7 686.4L344.1 686.4L310.3 589.3ZM337.7 686.4L371.6 765.3L378 765.3L344.1 686.4ZM371.6 765.3L405.5 829.4L411.9 829.4L378 765.3ZM405.5 829.4L439.4 881.6L445.8 881.6L411.9 829.4ZM439.4 881.6L473.2 924L479.6 924L445.8 881.6ZM473.2 924L507.1 958.5L513.5 958.5L479.6 924ZM510.3 955.3L544.2 983.3L544.2 989.7L510.3 961.7ZM544.2 983.3L578.1 1006.2L578.1 1012.6L544.2 989.7ZM578.1 1006.2L611.9 1024.7L611.9 1031.1L578.1 1012.6ZM611.9 1024.7L645.8 1039.8L645.8 1046.2L611.9 1031.1ZM645.8 1039.8L679.7 1052.1L679.7 1058.5L645.8 1046.2ZM679.7 1052.1L713.6 1062.1L713.6 1068.5L679.7 1058.5ZM713.6 1062.1L747.4 1070.2L747.4 1076.6L713.6 1068.5ZM747.4 1070.2L781.3 1076.8L781.3 1083.2L747.4 1076.6ZM781.3 1076.8L815.2 1082.2L815.2 1088.6L781.3 1083.2ZM815.2 1082.2L849.1 1086.6L849.1 1093L815.2 1088.6ZM849.1 1086.6L882.9 1090.1L882.9 1096.5L849.1 1093ZM882.9 1090.1L916.8 1093L916.8 1099.4L882.9 1096.5ZM916.8 1093L950.7 1095.4L950.7 1101.8L916.8 1099.4ZM950.7 1095.4L984.6 1097.3L984.6 1103.7L950.7 1101.8ZM984.6 1097.3L1018.4 1098.8L1018.4 1105.2L984.6 1103.7ZM1018.4 1098.8L1052.3 1100.1L1052.3 1106.5L1018.4 1105.2ZM1052.3 1100.1L1086.2 1101.1L1086.2 1107.5L1052.3 1106.5ZM1086.2 1101.1L1120.1 1102L1120.1 1108.4L1086.2 1107.5ZM1120.1 1102L1153.9 1102.6L1153.9 1109L1120.1 1108.4ZM1153.9 1102.6L1187.8 1103.2L1187.8 1109.6L1153.9 1109ZM1187.8 1103.2L1221.7 1103.6L1221.7 1110L1187.8 1109.6ZM1221.7 1103.6L1255.6 1104L1255.6 1110.4L1221.7 1110ZM1255.6 1104L1289.4 1104.3L1289.4 1110.7L1255.6 1110.4ZM1289.4 1104.3L1323.3 1104.6L1323.3 1111L1289.4 1110.7ZM1323.3 1104.6L1357.2 1104.8L1357.2 1111.2L1323.3 1111ZM1357.2 1104.8L1391.1 1104.9L1391.1 1111.3L1357.2 1111.2ZM1391.1 1104.9L1424.9 1105L1424.9 1111.4L1391.1 1111.3ZM1424.9 1105L1458.8 1105.1L1458.8 1111.5L1424.9 1111.4ZM1458.8 1105.1L1492.7 1105.2L1492.7 1111.6L1458.8 1111.5ZM1492.7 1105.2L1526.6 1105.3L1526.6 1111.7L1492.7 1111.6ZM1526.6 1105.3L1555.5 1105.4L1555.5 1111.8L1526.6 1111.7Z"/><g class="md"><use href="#mda" x="200.5" y="1111.3"/><use href="#mda" x="200.5" y="1006.2"/><use href="#mda" x="200.5" y="956"/><use href="#mda" x="200.6" y="911.7"/><use href="#mda" x="200.7" y="861.6"/><use href="#mda" x="201" y="811.5"/><use href="#mda" x="201.5" y="750.7"/><use href="#mda" x="202.2" y="689.1"/><use href="#mda" x="203.2" y="618.4"/><use href="#mda" x="204.6" y="544.5"/><use href="#mda" x="206.6" y="468.1"/><use href="#mda" x="209.9" y="395"/><use href="#mda" x="214.8" y="330.1"/><use href="#mda" x="222" y="289.9"/><use href="#mda" x="232.8" y="289.9"/><use href="#mda" x="249" y="344.1"/><use href="#mda" x="273.2" y="447.1"/><use href="#mda" x="307.1" y="589.3"/><use href="#mda" x="340.9" y="686.4"/><use href="#mda" x="374.8" y="765.3"/><use href="#mda" x="408.7" y="829.4"/><use href="#mda" x="442.6" y="881.6"/><use href="#mda" x="476.4" y="924"/><use href="#mda" x="510.3" y="958.5"/><use href="#mda" x="544.2" y="986.5"/><use href="#mda" x="578.1" y="1009.4"/><use href="#mda" x="611.9" y="1027.9"/><use href="#mda" x="645.8" y="1043"/><use href="#mda" x="679.7" y="1055.3"/><use href="#mda" x="713.6" y="1065.3"/><use href="#mda" x="747.4" y="1073.4"/><use href="#mda" x="781.3" y="1080"/><use href="#mda" x="815.2" y="1085.4"/><use href="#mda" x="849.1" y="1089.8"/><use href="#mda" x="882.9" y="1093.3"/><use href="#mda" x="916.8" y="1096.2"/><use href="#mda" x="950.7" y="1098.6"/><use href="#mda" x="984.6" y="1100.5"/><use href="#mda" x="1018.4" y="1102"/><use href="#mda" x="1052.3" y="1103.3"/><use href="#mda" x="1086.2" y="1104.3"/><use href="#mda" x="1120.1" y="1105.2"/><use href="#mda" x="1153.9" y="1105.8"/><use href="#mda" x="1187.8" y="1106.4"/><use href="#mda" x="1221.7" y="1106.8"/><use href="#mda" x="1255.6" y="1107.2"/><use href="#mda" x="1289.4" y="1107.5"/><use href="#mda" x="1323.3" y="1107.8"/><use href="#mda" x="1357.2" y="1108"/><use href="#mda" x="1391.1" y="1108.1"/><use href="#mda" x="1424.9" y="1108.2"/><use href="#mda" x="1458.8" y="1108.3"/><use href="#mda" x="1492.7" y="1108.4"/><use href="#mda" x="1526.6" y="1108.5"/><use href="#mda" x="1555.5" y="1108.6"/></g></g>
<g fill="#0000ff"><path d="M198.9 1111.3L198.9 1009.1L202.1 1009.1L202.1 1111.3ZM198.9 1009.1L198.9 960.3L202.1 960.3L202.1 1009.1ZM198.9 960.3L199 917.2L202.2 917.2L202.1 960.3ZM199 917.2L199.2 868.5L202.4 868.5L202.2 917.2ZM199.2 868.5L199.4 819.8L202.6 819.8L202.4 868.5ZM199.4 819.8L199.9 760.7L203.1 760.7L202.6 819.8ZM199.9 760.7L200.7 700.8L203.9 700.8L203.1 760.7ZM200.7 700.8L201.8 632.1L205 632.1L203.9 700.8ZM201.8 632.1L203.3 560.2L206.5 560.2L205 632.1ZM203.3 560.2L205.4 485.9L208.6 485.9L206.5 560.2ZM205.4 485.9L208.9 414.9L212.1 414.9L208.6 485.9ZM208.9 414.9L214.2 351.8L217.4 351.8L212.1 414.9ZM214.2 351.8L221.9 312.6L225.1 312.6L217.4 351.8ZM223.5 311L235 311L235 314.2L223.5 314.2ZM233.4 312.6L250.6 364.5L253.8 364.5L236.6 312.6ZM250.6 364.5L276.4 467.3L279.6 467.3L253.8 364.5ZM276.4 467.3L310.3 586.7L313.5 586.7L279.6 467.3ZM310.3 586.7L344.2 683.6L347.4 683.6L313.5 586.7ZM344.2 683.6L378.1 758L381.3 758L347.4 683.6ZM378.1 758L411.9 819.4L415.1 819.4L381.3 758ZM411.9 819.4L445.8 870L449 870L415.1 819.4ZM445.8 870L479.7 911.8L482.9 911.8L449 870ZM479.7 911.8L513.6 946.3L516.8 946.3L482.9 911.8ZM515.2 944.7L549 973.1L549 976.3L515.2 947.9ZM549 973.1L582.9 996.6L582.9 999.8L549 976.3ZM582.9 996.6L616.8 1015.9L616.8 1019.1L582.9 999.8ZM616.8 1015.9L650.7 1031.9L650.7 1035.1L616.8 1019.1ZM650.7 1031.9L684.5 1045.1L684.5 1048.3L650.7 1035.1ZM684.5 1045.1L718.4 1055.9L718.4 1059.1L684.5 1048.3ZM718.4 1055.9L752.3 1064.9L752.3 1068.1L718.4 1059.1ZM752.3 1064.9L786.2 1072.3L786.2 1075.5L752.3 1068.1ZM786.2 1072.3L820 1078.4L820 1081.6L786.2 1075.5ZM820 1078.4L853.9 1083.5L853.9 1086.7L820 1081.6ZM853.9 1083.5L887.8 1087.6L887.8 1090.8L853.9 1086.7ZM887.8 1087.6L921.7 1091L921.7 1094.2L887.8 1090.8ZM921.7 1091L955.5 1093.9L955.5 1097.1L921.7 1094.2ZM955.5 1093.9L989.4 1096.2L989.4 1099.4L955.5 1097.1ZM989.4 1096.2L1023.3 1098.1L1023.3 1101.3L989.4 1099.4ZM1023.3 1098.1L1057.2 1099.7L1057.2 1102.9L1023.3 1101.3ZM1057.2 1099.7L1091 1101L1091 1104.2L1057.2 1102.9ZM1091 1101L1124.9 1102.1L1124.9 1105.3L1091 1104.2ZM1124.9 1102.1L1158.8 1103L1158.8 1106.2L1124.9 1105.3ZM1158.8 1103L1192.7 1103.7L1192.7 1106.9L1158.8 1106.2ZM1192.7 1103.7L1226.5 1104.3L1226.5 1107.5L1192.7 1106.9ZM1226.5 1104.3L1260.4 1104.8L1260.4 1108L1226.5 1107.5ZM1260.4 1104.8L1294.3 1105.3L1294.3 1108.5L1260.4 1108ZM1294.3 1105.3L1328.2 1105.6L1328.2 1108.8L1294.3 1108.5ZM1328.2 1105.6L1362 1105.9L1362 1109.1L1328.2 1108.8ZM1362 1105.9L1395.9 1106.1L1395.9 1109.3L1362 1109.1ZM1395.9 1106.1L1429.8 1106.3L1429.8 1109.5L1395.9 1109.3ZM1429.8 1106.3L1463.7 1106.5L1463.7 1109.7L1429.8 1109.5ZM1463.7 1106.5L1497.5 1106.6L1497.5 1109.8L1463.7 1109.7ZM1497.5 1106.6L1531.4 1106.7L1531.4 1109.9L1497.5 1109.8ZM1531.4 1106.7L1555.5 1106.8L1555.5 1110L1531.4 1109.9Z"/><g class="md"><use href="#mda" x="200.5" y="1111.3"/><use href="#mda" x="200.5" y="1009.1"/><use href="#mda" x="200.5" y="960.3"/><use href="#mda" x="200.6" y="917.2"/><use href="#mda" x="200.8" y="868.5"/><use href="#mda" x="201" y="819.8"/><use href="#mda" x="201.5" y="760.7"/><use href="#mda" x="202.3" y="700.8"/><use href="#mda" x="203.4" y="632.1"/><use href="#mda" x="204.9" y="560.2"/><use href="#mda" x="207" y="485.9"/><use href="#mda" x="210.5" y="414.9"/><use href="#mda" x="215.8" y="351.8"/><use href="#mda" x="223.5" y="312.6"/><use href="#mda" x="235" y="312.6"/><use href="#mda" x="252.2" y="364.5"/><use href="#mda" x="278" y="467.3"/><use href="#mda" x="311.9" y="586.7"/><use href="#mda" x="345.8" y="683.6"/><use href="#mda" x="379.7" y="758"/><use href="#mda" x="413.5" y="819.4"/><use href="#mda" x="447.4" y="870"/><use href="#mda" x="481.3" y="911.8"/><use href="#mda" x="515.2" y="946.3"/><use href="#mda" x="549" y="974.7"/><use href="#mda" x="582.9" y="998.2"/><use href="#mda" x="616.8" y="1017.5"/><use href="#mda" x="650.7" y="1033.5"/><use href="#mda" x="684.5" y="1046.7"/><use href="#mda" x="718.4" y="1057.5"/><use href="#mda" x="752.3" y="1066.5"/><use href="#mda" x="786.2" y="1073.9"/><use href="#mda" x="820" y="1080"/><use href="#mda" x="853.9" y="1085.1"/><use href="#mda" x="887.8" y="1089.2"/><use href="#mda" x="921.7" y="1092.6"/><use href="#mda" x="955.5" y="1095.5"/><use href="#mda" x="989.4" y="1097.8"/><use href="#mda" x="1023.3" y="1099.7"/><use href="#mda" x="1057.2" y="1101.3"/><use href="#mda" x="1091" y="1102.6"/><use href="#mda" x="1124.9" y="1103.7"/><use href="#mda" x="1158.8" y="1104.6"/><use href="#mda" x="1192.7" y="1105.3"/><use href="#mda" x="1226.5" y="1105.9"/><use href="#mda" x="1260.4" y="1106.4"/><use href="#mda" x="1294.3" y="1106.9"/><use href="#mda" x="1328.2" y="1107.2"/><use href="#mda" x="1362" y="1107.5"/><use href="#mda" x="1395.9" y="1107.7"/><use href="#mda" x="1429.8" y="1107.9"/><use href="#mda" x="1463.7" y="1108.1"/><use href="#mda" x="1497.5" y="1108.2"/><use href="#mda" x="1531.4" y="1108.3"/><use href="#mda" x="1555.5" y="1108.4"/></g></g>
<g fill="#00ff00"><path d="M197.3 1111.3L197.3 1029.9L203.7 1029.9L203.7 1111.3ZM197.3 1029.9L197.3 991.1L203.7 991.1L203.7 1029.9ZM197.3 991.1L197.4 956.7L203.8 956.7L203.7 991.1ZM197.4 956.7L197.6 917.9L204 917.9L203.8 956.7ZM197.6 917.9L197.9 879.1L204.3 879.1L204 917.9ZM197.9 879.1L198.4 832L204.8 832L204.3 879.1ZM198.4 832L199.2 784.3L205.6 784.3L204.8 832ZM199.2 784.3L200.4 729.6L206.8 729.6L205.6 784.3ZM200.4 729.6L202 672.3L208.4 672.3L206.8 729.6ZM202 672.3L204.3 613.2L210.7 613.2L208.4 672.3ZM204.3 613.2L208.1 556.6L214.5 556.6L210.7 613.2ZM208.1 556.6L213.8 506.3L220.2 506.3L214.5 556.6ZM213.8 506.3L222 475.1L228.4 475.1L220.2 506.3ZM225.2 471.9L237.6 471.9L237.6 478.3L225.2 478.3ZM234.4 475.1L253 516.5L259.4 516.5L240.8 475.1ZM253 516.5L280.8 595.3L287.2 595.3L259.4 516.5ZM280.8 595.3L314.7 684.3L321.1 684.3L287.2 595.3ZM314.7 684.3L348.6 756.7L355 756.7L321.1 684.3ZM348.6 756.7L382.4 818.3L388.8 818.3L355 756.7ZM382.4 818.3L416.3 869.1L422.7 869.1L388.8 818.3ZM416.3 869.1L450.2 911L456.6 911L422.7 869.1ZM450.2 911L484.1 945.6L490.5 945.6L456.6 911ZM487.3 942.4L521.1 971L521.1 977.4L487.3 948.8ZM521.1 971L555 994.5L555 1000.9L521.1 977.4ZM555 994.5L588.9 1014L588.9 1020.4L555 1000.9ZM588.9 1014L622.8 1030L622.8 1036.4L588.9 1020.4ZM622.8 1030L656.6 1043.2L656.6 1049.6L622.8 1036.4ZM656.6 1043.2L690.5 1054.1L690.5 1060.5L656.6 1049.6ZM690.5 1054.1L724.4 1063.1L724.4 1069.5L690.5 1060.5ZM724.4 1063.1L758.3 1070.6L758.3 1077L724.4 1069.5ZM758.3 1070.6L792.1 1076.7L792.1 1083.1L758.3 1077ZM792.1 1076.7L826 1081.8L826 1088.2L792.1 1083.1ZM826 1081.8L859.9 1085.9L859.9 1092.3L826 1088.2ZM859.9 1085.9L893.8 1089.4L893.8 1095.8L859.9 1092.3ZM893.8 1089.4L927.6 1092.2L927.6 1098.6L893.8 1095.8ZM927.6 1092.2L961.5 1094.6L961.5 1101L927.6 1098.6ZM961.5 1094.6L995.4 1096.5L995.4 1102.9L961.5 1101ZM995.4 1096.5L1029.3 1098.1L1029.3 1104.5L995.4 1102.9ZM1029.3 1098.1L1063.1 1099.4L1063.1 1105.8L1029.3 1104.5ZM1063.1 1099.4L1097 1100.5L1097 1106.9L1063.1 1105.8ZM1097 1100.5L1130.9 1101.4L1130.9 1107.8L1097 1106.9ZM1130.9 1101.4L1164.8 1102.1L1164.8 1108.5L1130.9 1107.8ZM1164.8 1102.1L1198.6 1102.7L1198.6 1109.1L1164.8 1108.5ZM1198.6 1102.7L1232.5 1103.2L1232.5 1109.6L1198.6 1109.1ZM1232.5 1103.2L1266.4 1103.7L1266.4 1110.1L1232.5 1109.6ZM1266.4 1103.7L1300.3 1104L1300.3 1110.4L1266.4 1110.1ZM1300.3 1104L1334.1 1104.3L1334.1 1110.7L1300.3 1110.4ZM1334.1 1104.3L1368 1104.5L1368 1110.9L1334.1 1110.7ZM1368 1104.5L1401.9 1104.7L1401.9 1111.1L1368 1110.9ZM1401.9 1104.7L1435.8 1104.9L1435.8 1111.3L1401.9 1111.1ZM1435.8 1104.9L1469.6 1105L1469.6 1111.4L1435.8 1111.3ZM1469.6 1105L1503.5 1105.1L1503.5 1111.5L1469.6 1111.4ZM1503.5 1105.1L1537.4 1105.2L1537.4 1111.6L1503.5 1111.5ZM1537.4 1105.2L1555.5 1105.2L1555.5 1111.6L1537.4 1111.6Z"/><g class="md"><use href="#mda" x="200.5" y="1111.3"/><use href="#mda" x="200.5" y="1029.9"/><use href="#mda" x="200.5" y="991.1"/><use href="#mda" x="200.6" y="956.7"/><use href="#mda" x="200.8" y="917.9"/><use href="#mda" x="201.1" y="879.1"/><use href="#mda" x="201.6" y="832"/><use href="#mda" x="202.4" y="784.3"/><use href="#mda" x="203.6" y="729.6"/><use href="#mda" x="205.2" y="672.3"/><use href="#mda" x="207.5" y="613.2"/><use href="#mda" x="211.3" y="556.6"/><use href="#mda" x="217" y="506.3"/><use href="#mda" x="225.2" y="475.1"/><use href="#mda" x="237.6" y="475.1"/><use href="#mda" x="256.2" y="516.5"/><use href="#mda" x="284" y="595.3"/><use href="#mda" x="317.9" y="684.3"/><use href="#mda" x="351.8" y="756.7"/><use href="#mda" x="385.6" y="818.3"/><use href="#mda" x="419.5" y="869.1"/><use href="#mda" x="453.4" y="911"/><use href="#mda" x="487.3" y="945.6"/><use href="#mda" x="521.1" y="974.2"/><use href="#mda" x="555" y="997.7"/><use href="#mda" x="588.9" y="1017.2"/><use href="#mda" x="622.8" y="1033.2"/><use href="#mda" x="656.6" y="1046.4"/><use href="#mda" x="690.5" y="1057.3"/><use href="#mda" x="724.4" y="1066.3"/><use href="#mda" x="758.3" y="1073.8"/><use href="#mda" x="792.1" y="1079.9"/><use href="#mda" x="826" y="1085"/><use href="#mda" x="859.9" y="1089.1"/><use href="#mda" x="893.8" y="1092.6"/><use href="#mda" x="927.6" y="1095.4"/><use href="#mda" x="961.5" y="1097.8"/><use href="#mda" x="995.4" y="1099.7"/><use href="#mda" x="1029.3" y="1101.3"/><use href="#mda" x="1063.1" y="1102.6"/><use href="#mda" x="1097" y="1103.7"/><use href="#mda" x="1130.9" y="1104.6"/><use href="#mda" x="1164.8" y="1105.3"/><use href="#mda" x="1198.6" y="1105.9"/><use href="#mda" x="1232.5" y="1106.4"/><use href="#mda" x="1266.4" y="1106.9"/><use href="#mda" x="1300.3" y="1107.2"/><use href="#mda" x="1334.1" y="1107.5"/><use href="#mda" x="1368" y="1107.7"/><use href="#mda" x="1401.9" y="1107.9"/><use href="#mda" x="1435.8" y="1108.1"/><use href="#mda" x="1469.6" y="1108.2"/><use href="#mda" x="1503.5" y="1108.3"/><use href="#mda" x="1537.4" y="1108.4"/><use href="#mda" x="1555.5" y="1108.4"/></g></g>
<g fill="#ff00ff"><path d="M198.9 1111.3L198.9 1052L202.1 1052L202.1 1111.3ZM198.9 1052L198.9 1023.8L202.1 1023.8L202.1 1052ZM198.9 1023.8L199 998.8L202.2 998.8L202.1 1023.8ZM199 998.8L199.2 970.6L202.4 970.6L202.2 998.8ZM199.2 970.6L199.5 942.3L202.7 942.3L202.4 970.6ZM199.5 942.3L200.1 908L203.3 908L202.7 942.3ZM200.1 908L201 873.3L204.2 873.3L203.3 908ZM201 873.3L202.3 833.5L205.5 833.5L204.2 873.3ZM202.3 833.5L204 791.8L207.2 791.8L205.5 833.5ZM204 791.8L206.6 748.8L209.8 748.8L207.2 791.8ZM206.6 748.8L210.8 707.6L214 707.6L209.8 748.8ZM210.8 707.6L217 671L220.2 671L214 707.6ZM217 671L226.1 648.3L229.3 648.3L220.2 671ZM227.7 646.7L241.3 646.7L241.3 649.9L227.7 649.9ZM239.7 648.3L260.1 675.2L263.3 675.2L242.9 648.3ZM260.1 675.2L290.7 732.2L293.9 732.2L263.3 675.2ZM290.7 732.2L324.5 790.9L327.7 790.9L293.9 732.2ZM324.5 790.9L358.4 840.7L361.6 840.7L327.7 790.9ZM358.4 840.7L392.3 883.2L395.5 883.2L361.6 840.7ZM392.3 883.2L426.2 918.9L429.4 918.9L395.5 883.2ZM427.8 917.3L461.6 947.4L461.6 950.6L427.8 920.5ZM461.6 947.4L495.5 972.7L495.5 975.9L461.6 950.6ZM495.5 972.7L529.4 994L529.4 997.2L495.5 975.9ZM529.4 994L563.3 1011.9L563.3 1015.1L529.4 997.2ZM563.3 1011.9L597.1 1027L597.1 1030.2L563.3 1015.1ZM597.1 1027L631 1039.7L631 1042.9L597.1 1030.2ZM631 1039.7L664.9 1050.4L664.9 1053.6L631 1042.9ZM664.9 1050.4L698.8 1059.4L698.8 1062.6L664.9 1053.6ZM698.8 1059.4L732.6 1067L732.6 1070.2L698.8 1062.6ZM732.6 1067L766.5 1073.3L766.5 1076.5L732.6 1070.2ZM766.5 1073.3L800.4 1078.7L800.4 1081.9L766.5 1076.5ZM800.4 1078.7L834.3 1083.2L834.3 1086.4L800.4 1081.9ZM834.3 1083.2L868.1 1087L868.1 1090.2L834.3 1086.4ZM868.1 1087L902 1090.2L902 1093.4L868.1 1090.2ZM902 1090.2L935.9 1092.9L935.9 1096.1L902 1093.4ZM935.9 1092.9L969.8 1095.2L969.8 1098.4L935.9 1096.1ZM969.8 1095.2L1003.6 1097.1L1003.6 1100.3L969.8 1098.4ZM1003.6 1097.1L1037.5 1098.7L1037.5 1101.9L1003.6 1100.3ZM1037.5 1098.7L1071.4 1100L1071.4 1103.2L1037.5 1101.9ZM1071.4 1100L1105.3 1101.2L1105.3 1104.4L1071.4 1103.2ZM1105.3 1101.2L1139.1 1102.1L1139.1 1105.3L1105.3 1104.4ZM1139.1 1102.1L1173 1102.9L1173 1106.1L1139.1 1105.3ZM1173 1102.9L1206.9 1103.6L1206.9 1106.8L1173 1106.1ZM1206.9 1103.6L1240.8 1104.2L1240.8 1107.4L1206.9 1106.8ZM1240.8 1104.2L1274.6 1104.7L1274.6 1107.9L1240.8 1107.4ZM1274.6 1104.7L1308.5 1105.1L1308.5 1108.3L1274.6 1107.9ZM1308.5 1105.1L1342.4 1105.4L1342.4 1108.6L1308.5 1108.3ZM1342.4 1105.4L1376.3 1105.7L1376.3 1108.9L1342.4 1108.6ZM1376.3 1105.7L1410.1 1105.9L1410.1 1109.1L1376.3 1108.9ZM1410.1 1105.9L1444 1106.1L1444 1109.3L1410.1 1109.1ZM1444 1106.1L1477.9 1106.3L1477.9 1109.5L1444 1109.3ZM1477.9 1106.3L1511.8 1106.4L1511.8 1109.6L1477.9 1109.5ZM1511.8 1106.4L1545.6 1106.6L1545.6 1109.8L1511.8 1109.6ZM1545.6 1106.6L1555.5 1106.6L1555.5 1109.8L1545.6 1109.8Z"/><g class="md"><use href="#mda" x="200.5" y="1111.3"/><use href="#mda" x="200.5" y="1052"/><use href="#mda" x="200.5" y="1023.8"/><use href="#mda" x="200.6" y="998.8"/><use href="#mda" x="200.8" y="970.6"/><use href="#mda" x="201.1" y="942.3"/><use href="#mda" x="201.7" y="908"/><use href="#mda" x="202.6" y="873.3"/><use href="#mda" x="203.9" y="833.5"/><use href="#mda" x="205.6" y="791.8"/><use href="#mda" x="208.2" y="748.8"/><use href="#mda" x="212.4" y="707.6"/><use href="#mda" x="218.6" y="671"/><use href="#mda" x="227.7" y="648.3"/><use href="#mda" x="241.3" y="648.3"/><use href="#mda" x="261.7" y="675.2"/><use href="#mda" x="292.3" y="732.2"/><use href="#mda" x="326.1" y="790.9"/><use href="#mda" x="360" y="840.7"/><use href="#mda" x="393.9" y="883.2"/><use href="#mda" x="427.8" y="918.9"/><use href="#mda" x="461.6" y="949"/><use href="#mda" x="495.5" y="974.3"/><use href="#mda" x="529.4" y="995.6"/><use href="#mda" x="563.3" y="1013.5"/><use href="#mda" x="597.1" y="1028.6"/><use href="#mda" x="631" y="1041.3"/><use href="#mda" x="664.9" y="1052"/><use href="#mda" x="698.8" y="1061"/><use href="#mda" x="732.6" y="1068.6"/><use href="#mda" x="766.5" y="1074.9"/><use href="#mda" x="800.4" y="1080.3"/><use href="#mda" x="834.3" y="1084.8"/><use href="#mda" x="868.1" y="1088.6"/><use href="#mda" x="902" y="1091.8"/><use href="#mda" x="935.9" y="1094.5"/><use href="#mda" x="969.8" y="1096.8"/><use href="#mda" x="1003.6" y="1098.7"/><use href="#mda" x="1037.5" y="1100.3"/><use href="#mda" x="1071.4" y="1101.6"/><use href="#mda" x="1105.3" y="1102.8"/><use href="#mda" x="1139.1" y="1103.7"/><use href="#mda" x="1173" y="1104.5"/><use href="#mda" x="1206.9" y="1105.2"/><use href="#mda" x="1240.8" y="1105.8"/><use href="#mda" x="1274.6" y="1106.3"/><use href="#mda" x="1308.5" y="1106.7"/><use href="#mda" x="1342.4" y="1107"/><use href="#mda" x="1376.3" y="1107.3"/><use href="#mda" x="1410.1" y="1107.5"/><use href="#mda" x="1444" y="1107.7"/><use href="#mda" x="1477.9" y="1107.9"/><use href="#mda" x="1511.8" y="1108"/><use href="#mda" x="1545.6" y="1108.2"/><use href="#mda" x="1555.5" y="1108.2"/></g></g>
<rect x="957" y="77" width="525" height="850" fill="#fff" stroke="#000" stroke-width="3"/>
<g fill="#ff0000"><path d="M980 125.3H1105.5v6.6H980Z"/><g class="ms"><use href="#mk" x="1044.4" y="130.1"/></g></g>
<text class="lg" x="1116.7" y="159.5">249</text>
<text class="dg" x="1213" y="131">o</text>
<text class="lg lgc" transform="matrix(0.89 0 0 1 1240.8 159.5)">C</text>
<text class="lg" x="1281.3" y="159.5">-</text>
<text class="lg" transform="matrix(0.95 0 0 1 1300.1 159.5)">250</text>
<text class="dg" x="1393.5" y="131">o</text>
<text class="lg lgc" transform="matrix(0.89 0 0 1 1421.9 159.5)">C</text>
<g fill="#0000ff"><path d="M980 215.8H1105.5v6.6H980Z"/><g class="ms"><use href="#mk" x="1044.4" y="220.6"/></g></g>
<text class="lg" x="1116.7" y="252.8">299</text>
<text class="dg" x="1213" y="224.3">o</text>
<text class="lg lgc" transform="matrix(0.89 0 0 1 1240.8 252.8)">C</text>
<text class="lg" x="1281.3" y="252.8">-</text>
<text class="lg" transform="matrix(0.95 0 0 1 1300.1 252.8)">300</text>
<text class="dg" x="1393.5" y="224.3">o</text>
<text class="lg lgc" transform="matrix(0.89 0 0 1 1421.9 252.8)">C</text>
<g fill="#00ff00"><path d="M980 309.6H1105.5v6.6H980Z"/><g class="ms"><use href="#mk" x="1044.4" y="314.4"/></g></g>
<text class="lg" x="1116.7" y="346.2">349</text>
<text class="dg" x="1213" y="317.7">o</text>
<text class="lg lgc" transform="matrix(0.89 0 0 1 1240.8 346.2)">C</text>
<text class="lg" x="1281.3" y="346.2">-</text>
<text class="lg" transform="matrix(0.95 0 0 1 1300.1 346.2)">350</text>
<text class="dg" x="1393.5" y="317.7">o</text>
<text class="lg lgc" transform="matrix(0.89 0 0 1 1421.9 346.2)">C</text>
<g fill="#ff00ff"><path d="M980 403.4H1105.5v6.6H980Z"/><g class="ms"><use href="#mk" x="1044.4" y="408.2"/></g></g>
<text class="lg" x="1116.7" y="439.5">399</text>
<text class="dg" x="1213" y="411">o</text>
<text class="lg lgc" transform="matrix(0.89 0 0 1 1240.8 439.5)">C</text>
<text class="lg" x="1281.3" y="439.5">-</text>
<text class="lg" transform="matrix(0.95 0 0 1 1300.1 439.5)">400</text>
<text class="dg" x="1393.5" y="411">o</text>
<text class="lg lgc" transform="matrix(0.89 0 0 1 1421.9 439.5)">C</text>
<g fill="#00ffff"><path d="M980 496.9H1105.5v6.6H980Z"/><g class="ms"><use href="#mk" x="1044.4" y="501.7"/></g></g>
<text class="lg" x="1116.7" y="532.9">449</text>
<text class="dg" x="1213" y="504.4">o</text>
<text class="lg lgc" transform="matrix(0.89 0 0 1 1240.8 532.9)">C</text>
<text class="lg" x="1281.3" y="532.9">-</text>
<text class="lg" transform="matrix(0.95 0 0 1 1300.1 532.9)">450</text>
<text class="dg" x="1393.5" y="504.4">o</text>
<text class="lg lgc" transform="matrix(0.89 0 0 1 1421.9 532.9)">C</text>
<g fill="#ff0000"><path d="M980 587.7H1105.5v6.6H980Z"/><g class="md"><use href="#md" x="1044.4" y="592.5"/></g></g>
<text class="lg" x="1116.7" y="626.2">499</text>
<text class="dg" x="1213" y="597.7">o</text>
<text class="lg lgc" transform="matrix(0.89 0 0 1 1240.8 626.2)">C</text>
<text class="lg" x="1281.3" y="626.2">-</text>
<text class="lg" transform="matrix(0.95 0 0 1 1300.1 626.2)">500</text>
<text class="dg" x="1393.5" y="597.7">o</text>
<text class="lg lgc" transform="matrix(0.89 0 0 1 1421.9 626.2)">C</text>
<g fill="#0000ff"><path d="M980 681.5H1105.5v6.6H980Z"/><g class="md"><use href="#md" x="1044.4" y="686.3"/></g></g>
<text class="lg" x="1116.7" y="719.5">549</text>
<text class="dg" x="1213" y="691">o</text>
<text class="lg lgc" transform="matrix(0.89 0 0 1 1240.8 719.5)">C</text>
<text class="lg" x="1281.3" y="719.5">-</text>
<text class="lg" transform="matrix(0.95 0 0 1 1300.1 719.5)">550</text>
<text class="dg" x="1393.5" y="691">o</text>
<text class="lg lgc" transform="matrix(0.89 0 0 1 1421.9 719.5)">C</text>
<g fill="#00ff00"><path d="M980 775.3H1105.5v6.6H980Z"/><g class="md"><use href="#md" x="1044.4" y="780.1"/></g></g>
<text class="lg" x="1116.7" y="812.9">599</text>
<text class="dg" x="1213" y="784.4">o</text>
<text class="lg lgc" transform="matrix(0.89 0 0 1 1240.8 812.9)">C</text>
<text class="lg" x="1281.3" y="812.9">-</text>
<text class="lg" transform="matrix(0.95 0 0 1 1300.1 812.9)">600</text>
<text class="dg" x="1393.5" y="784.4">o</text>
<text class="lg lgc" transform="matrix(0.89 0 0 1 1421.9 812.9)">C</text>
<g fill="#ff00ff"><path d="M980 866.2H1105.5v6.6H980Z"/><g class="md"><use href="#md" x="1044.4" y="871"/></g></g>
<text class="lg" x="1116.7" y="906.2">649</text>
<text class="dg" x="1213" y="877.7">o</text>
<text class="lg lgc" transform="matrix(0.89 0 0 1 1240.8 906.2)">C</text>
<text class="lg" x="1281.3" y="906.2">-</text>
<text class="lg" transform="matrix(0.95 0 0 1 1300.1 906.2)">650</text>
<text class="dg" x="1393.5" y="877.7">o</text>
<text class="lg lgc" transform="matrix(0.89 0 0 1 1421.9 906.2)">C</text>
<text class="cap" x="858" y="1351.5" text-anchor="middle">(<tspan class="b">a</tspan>)</text>
<path class="ax" d="M246.6 1556.8V2623.3H1603.3"/>
<path class="ax" d="M246.6 2623.3h14"/>
<text class="tk" x="232.6" y="2639.8" text-anchor="end">0</text>
<path class="ax" d="M246.6 2445.6h14"/>
<text class="tk" x="232.6" y="2462.1" text-anchor="end">0.5</text>
<path class="ax" d="M246.6 2267.8h14"/>
<text class="tk" x="232.6" y="2284.3" text-anchor="end" clip-path="url(#c4)">1</text>
<path class="ax" d="M246.6 2090.1h14"/>
<text class="tk" x="232.6" y="2106.6" text-anchor="end" clip-path="url(#c5)">1.5</text>
<path class="ax" d="M246.6 1912.3h14"/>
<text class="tk" x="232.6" y="1928.8" text-anchor="end">2</text>
<path class="ax" d="M246.6 1734.6h14"/>
<text class="tk" x="232.6" y="1751.1" text-anchor="end">2.5</text>
<path class="ax" d="M246.6 1556.8h14"/>
<text class="tk" x="232.6" y="1573.3" text-anchor="end">3</text>
<path class="ax" d="M246.6 2623.3v-17"/>
<text class="tk" x="244.8" y="2683.8" text-anchor="middle">0</text>
<path class="ax" d="M585.8 2623.3v-17"/>
<text class="tk" x="584" y="2683.8" text-anchor="middle">50</text>
<path class="ax" d="M925 2623.3v-17"/>
<text class="tk" x="923.2" y="2683.8" text-anchor="middle" clip-path="url(#c6)">100</text>
<path class="ax" d="M1264.1 2623.3v-17"/>
<text class="tk" x="1262.3" y="2683.8" text-anchor="middle" clip-path="url(#c7)">150</text>
<path class="ax" d="M1603.3 2623.3v-17"/>
<text class="tk" x="1601.5" y="2683.8" text-anchor="middle">200</text>
<text class="lby" transform="translate(122 2097.6) rotate(-90)" text-anchor="middle">Stress (MPa)</text>
<text class="lb" x="919" y="2749.8" text-anchor="middle">Time (s)</text>
<g clip-path="url(#cb)"><g fill="#ff0000"><path d="M243.4 2623.3L243.4 2512.5L249.8 2512.5L249.8 2623.3ZM243.4 2512.5L243.6 2459.6L250 2459.6L249.8 2512.5ZM243.6 2459.6L244.2 2412.9L250.6 2412.9L250 2459.6ZM244.2 2412.9L245.3 2360L251.7 2360L250.6 2412.9ZM245.3 2360L247.2 2307.2L253.6 2307.2L251.7 2360ZM247.2 2307.2L250.9 2243.1L257.3 2243.1L253.6 2307.2ZM250.9 2243.1L256.5 2178.2L262.9 2178.2L257.3 2243.1ZM256.5 2178.2L264.3 2103.7L270.7 2103.7L262.9 2178.2ZM264.3 2103.7L275.1 2025.8L281.5 2025.8L270.7 2103.7ZM275.1 2025.8L291 1945.2L297.4 1945.2L281.5 2025.8ZM291 1945.2L316.4 1868.1L322.8 1868.1L297.4 1945.2ZM316.4 1868.1L354.8 1799.7L361.2 1799.7L322.8 1868.1ZM358 1796.5L413.9 1754.1L413.9 1760.5L358 1802.9ZM413.9 1754.1L497.7 1754.1L497.7 1760.5L413.9 1760.5ZM497.7 1754.1L623.3 1800L623.3 1806.4L497.7 1760.5ZM623.3 1800L811.7 1901.3L811.7 1907.7L623.3 1806.4ZM811.7 1901.3L1094.2 2044.1L1094.2 2050.5L811.7 1907.7ZM1094.2 2044.1L1433.4 2179.2L1433.4 2185.6L1094.2 2050.5ZM1433.4 2179.2L1772.6 2273L1772.6 2279.4L1433.4 2185.6Z"/><g class="ms"><use href="#mk" x="246.6" y="2623.3"/><use href="#mk" x="246.6" y="2512.5"/><use href="#mk" x="246.8" y="2459.6"/><use href="#mk" x="247.4" y="2412.9"/><use href="#mk" x="248.5" y="2360"/><use href="#mk" x="250.4" y="2307.2"/><use href="#mk" x="254.1" y="2243.1"/><use href="#mk" x="259.7" y="2178.2"/><use href="#mk" x="267.5" y="2103.7"/><use href="#mk" x="278.3" y="2025.8"/><use href="#mk" x="294.2" y="1945.2"/><use href="#mk" x="319.6" y="1868.1"/><use href="#mk" x="358" y="1799.7"/><use href="#mk" x="413.9" y="1757.3"/><use href="#mk" x="497.7" y="1757.3"/><use href="#mk" x="623.3" y="1803.2"/><use href="#mk" x="811.7" y="1904.5"/><use href="#mk" x="1094.2" y="2047.3"/><use href="#mk" x="1433.4" y="2182.4"/></g></g>
<g fill="#0000ff"><path d="M243.4 2623.3L243.4 2508.2L249.8 2508.2L249.8 2623.3ZM243.4 2508.2L243.6 2453.3L250 2453.3L249.8 2508.2ZM243.6 2453.3L244.3 2404.7L250.7 2404.7L250 2453.3ZM244.3 2404.7L245.3 2349.9L251.7 2349.9L250.7 2404.7ZM245.3 2349.9L247.3 2295L253.7 2295L251.7 2349.9ZM247.3 2295L251.1 2228.5L257.5 2228.5L253.7 2295ZM251.1 2228.5L256.9 2161L263.3 2161L257.5 2228.5ZM256.9 2161L264.9 2083.7L271.3 2083.7L263.3 2161ZM264.9 2083.7L276 2002.7L282.4 2002.7L271.3 2083.7ZM276 2002.7L292.4 1919.1L298.8 1919.1L282.4 2002.7ZM292.4 1919.1L318.5 1839L324.9 1839L298.8 1919.1ZM318.5 1839L358 1768L364.4 1768L324.9 1839ZM361.2 1764.8L418.8 1720.7L418.8 1727.1L361.2 1771.2ZM418.8 1720.7L505.1 1720.7L505.1 1727.1L418.8 1727.1ZM505.1 1720.7L634.3 1765.7L634.3 1772.1L505.1 1727.1ZM634.3 1765.7L828.2 1864.8L828.2 1871.2L634.3 1772.1ZM828.2 1864.8L1119 2024.7L1119 2031.1L828.2 1871.2ZM1119 2024.7L1458.2 2157.8L1458.2 2164.2L1119 2031.1ZM1458.2 2157.8L1797.4 2246.1L1797.4 2252.5L1458.2 2164.2Z"/><g class="ms"><use href="#mk" x="246.6" y="2623.3"/><use href="#mk" x="246.6" y="2508.2"/><use href="#mk" x="246.8" y="2453.3"/><use href="#mk" x="247.5" y="2404.7"/><use href="#mk" x="248.5" y="2349.9"/><use href="#mk" x="250.5" y="2295"/><use href="#mk" x="254.3" y="2228.5"/><use href="#mk" x="260.1" y="2161"/><use href="#mk" x="268.1" y="2083.7"/><use href="#mk" x="279.2" y="2002.7"/><use href="#mk" x="295.6" y="1919.1"/><use href="#mk" x="321.7" y="1839"/><use href="#mk" x="361.2" y="1768"/><use href="#mk" x="418.8" y="1723.9"/><use href="#mk" x="505.1" y="1723.9"/><use href="#mk" x="634.3" y="1768.9"/><use href="#mk" x="828.2" y="1868"/><use href="#mk" x="1119" y="2027.9"/><use href="#mk" x="1458.2" y="2161"/></g></g>
<g fill="#00ff00"><path d="M243.4 2623.3L243.4 2505.8L249.8 2505.8L249.8 2623.3ZM243.4 2505.8L243.6 2449.7L250 2449.7L249.8 2505.8ZM243.6 2449.7L244.3 2400.2L250.7 2400.2L250 2449.7ZM244.3 2400.2L245.5 2344.2L251.9 2344.2L250.7 2400.2ZM245.5 2344.2L247.5 2288.1L253.9 2288.1L251.9 2344.2ZM247.5 2288.1L251.7 2220.2L258.1 2220.2L253.9 2288.1ZM251.7 2220.2L257.8 2151.3L264.2 2151.3L258.1 2220.2ZM257.8 2151.3L266.3 2072.3L272.7 2072.3L264.2 2151.3ZM266.3 2072.3L278.3 1989.7L284.7 1989.7L272.7 2072.3ZM278.3 1989.7L295.7 1904.3L302.1 1904.3L284.7 1989.7ZM295.7 1904.3L323.6 1822.6L330 1822.6L302.1 1904.3ZM323.6 1822.6L365.8 1750L372.2 1750L330 1822.6ZM369 1746.8L430.5 1701.8L430.5 1708.2L369 1753.2ZM430.5 1701.8L522.7 1701.8L522.7 1708.2L430.5 1708.2ZM522.7 1701.8L660.7 1756.9L660.7 1763.3L522.7 1708.2ZM660.7 1756.9L867.7 1869.2L867.7 1875.6L660.7 1763.3ZM867.7 1869.2L1178.3 2028.9L1178.3 2035.3L867.7 1875.6ZM1178.3 2028.9L1517.5 2159.9L1517.5 2166.3L1178.3 2035.3ZM1517.5 2159.9L1856.6 2252.2L1856.6 2258.6L1517.5 2166.3Z"/><g class="ms"><use href="#mk" x="246.6" y="2623.3"/><use href="#mk" x="246.6" y="2505.8"/><use href="#mk" x="246.8" y="2449.7"/><use href="#mk" x="247.5" y="2400.2"/><use href="#mk" x="248.7" y="2344.2"/><use href="#mk" x="250.7" y="2288.1"/><use href="#mk" x="254.9" y="2220.2"/><use href="#mk" x="261" y="2151.3"/><use href="#mk" x="269.5" y="2072.3"/><use href="#mk" x="281.5" y="1989.7"/><use href="#mk" x="298.9" y="1904.3"/><use href="#mk" x="326.8" y="1822.6"/><use href="#mk" x="369" y="1750"/><use href="#mk" x="430.5" y="1705"/><use href="#mk" x="522.7" y="1705"/><use href="#mk" x="660.7" y="1760.1"/><use href="#mk" x="867.7" y="1872.4"/><use href="#mk" x="1178.3" y="2032.1"/><use href="#mk" x="1517.5" y="2163.1"/></g></g>
<g fill="#ff00ff"><path d="M243.4 2623.3L243.4 2502.1L249.8 2502.1L249.8 2623.3ZM243.4 2502.1L243.6 2444.3L250 2444.3L249.8 2502.1ZM243.6 2444.3L244.4 2393.2L250.8 2393.2L250 2444.3ZM244.4 2393.2L245.6 2335.4L252 2335.4L250.8 2393.2ZM245.6 2335.4L247.7 2277.6L254.1 2277.6L252 2335.4ZM247.7 2277.6L252 2207.5L258.4 2207.5L254.1 2277.6ZM252 2207.5L258.5 2136.5L264.9 2136.5L258.4 2207.5ZM258.5 2136.5L267.4 2055.1L273.8 2055.1L264.9 2136.5ZM267.4 2055.1L279.8 1969.8L286.2 1969.8L273.8 2055.1ZM279.8 1969.8L298.1 1881.8L304.5 1881.8L286.2 1969.8ZM298.1 1881.8L327.3 1797.5L333.7 1797.5L304.5 1881.8ZM327.3 1797.5L371.5 1722.7L377.9 1722.7L333.7 1797.5ZM374.7 1719.5L438.9 1673L438.9 1679.4L374.7 1725.9ZM438.9 1673L535.3 1673L535.3 1679.4L438.9 1679.4ZM535.3 1673L679.7 1728.9L679.7 1735.3L535.3 1679.4ZM679.7 1728.9L896.2 1845L896.2 1851.4L679.7 1735.3ZM896.2 1845L1221 2005.9L1221 2012.3L896.2 1851.4ZM1221 2005.9L1560.2 2139L1560.2 2145.4L1221 2012.3ZM1560.2 2139L1899.4 2239.6L1899.4 2246L1560.2 2145.4Z"/><g class="ms"><use href="#mk" x="246.6" y="2623.3"/><use href="#mk" x="246.6" y="2502.1"/><use href="#mk" x="246.8" y="2444.3"/><use href="#mk" x="247.6" y="2393.2"/><use href="#mk" x="248.8" y="2335.4"/><use href="#mk" x="250.9" y="2277.6"/><use href="#mk" x="255.2" y="2207.5"/><use href="#mk" x="261.7" y="2136.5"/><use href="#mk" x="270.6" y="2055.1"/><use href="#mk" x="283" y="1969.8"/><use href="#mk" x="301.3" y="1881.8"/><use href="#mk" x="330.5" y="1797.5"/><use href="#mk" x="374.7" y="1722.7"/><use href="#mk" x="438.9" y="1676.2"/><use href="#mk" x="535.3" y="1676.2"/><use href="#mk" x="679.7" y="1732.1"/><use href="#mk" x="896.2" y="1848.2"/><use href="#mk" x="1221" y="2009.1"/><use href="#mk" x="1560.2" y="2142.2"/></g></g>
<g fill="#00ffff"><path d="M243.4 2623.3L243.5 2514.1L249.9 2514.1L249.8 2623.3ZM243.5 2514.1L243.7 2462L250.1 2462L249.9 2514.1ZM243.7 2462L244.4 2416L250.8 2416L250.1 2462ZM244.4 2416L245.7 2363.9L252.1 2363.9L250.8 2416ZM245.7 2363.9L247.9 2311.9L254.3 2311.9L252.1 2363.9ZM247.9 2311.9L252.4 2248.7L258.8 2248.7L254.3 2311.9ZM252.4 2248.7L259.2 2184.8L265.6 2184.8L258.8 2248.7ZM259.2 2184.8L268.5 2111.4L274.9 2111.4L265.6 2184.8ZM268.5 2111.4L281.6 2034.6L288 2034.6L274.9 2111.4ZM281.6 2034.6L300.6 1955.2L307 1955.2L288 2034.6ZM300.6 1955.2L331.2 1879.3L337.6 1879.3L307 1955.2ZM331.2 1879.3L377.4 1811.9L383.8 1811.9L337.6 1879.3ZM380.6 1808.7L447.9 1766.9L447.9 1773.3L380.6 1815.1ZM447.9 1766.9L548.8 1766.9L548.8 1773.3L447.9 1773.3ZM548.8 1766.9L699.9 1815.5L699.9 1821.9L548.8 1773.3ZM699.9 1815.5L926.5 1918.4L926.5 1924.8L699.9 1821.9ZM926.5 1918.4L1265.7 2062.6L1265.7 2069L926.5 1924.8ZM1265.7 2062.6L1604.9 2175.8L1604.9 2182.2L1265.7 2069Z"/><g class="ms"><use href="#mk" x="246.6" y="2623.3"/><use href="#mk" x="246.7" y="2514.1"/><use href="#mk" x="246.9" y="2462"/><use href="#mk" x="247.6" y="2416"/><use href="#mk" x="248.9" y="2363.9"/><use href="#mk" x="251.1" y="2311.9"/><use href="#mk" x="255.6" y="2248.7"/><use href="#mk" x="262.4" y="2184.8"/><use href="#mk" x="271.7" y="2111.4"/><use href="#mk" x="284.8" y="2034.6"/><use href="#mk" x="303.8" y="1955.2"/><use href="#mk" x="334.4" y="1879.3"/><use href="#mk" x="380.6" y="1811.9"/><use href="#mk" x="447.9" y="1770.1"/><use href="#mk" x="548.8" y="1770.1"/><use href="#mk" x="699.9" y="1818.7"/><use href="#mk" x="926.5" y="1921.6"/><use href="#mk" x="1265.7" y="2065.8"/><use href="#mk" x="1604.9" y="2179"/></g></g>
<g fill="#ff0000"><path d="M243.4 2623.3L243.5 2518.2L249.9 2518.2L249.8 2623.3ZM243.5 2518.2L243.7 2468.1L250.1 2468.1L249.9 2518.2ZM243.7 2468.1L244.5 2423.7L250.9 2423.7L250.1 2468.1ZM244.5 2423.7L245.8 2373.7L252.2 2373.7L250.9 2423.7ZM245.8 2373.7L248.2 2323.6L254.6 2323.6L252.2 2373.7ZM248.2 2323.6L253.1 2262.8L259.5 2262.8L254.6 2323.6ZM253.1 2262.8L260.3 2201.2L266.7 2201.2L259.5 2262.8ZM260.3 2201.2L270.3 2130.6L276.7 2130.6L266.7 2201.2ZM270.3 2130.6L284.2 2056.7L290.6 2056.7L276.7 2130.6ZM284.2 2056.7L304.6 1980.3L311 1980.3L290.6 2056.7ZM304.6 1980.3L337.4 1907.2L343.8 1907.2L311 1980.3ZM337.4 1907.2L386.8 1842.3L393.2 1842.3L343.8 1907.2ZM390 1839.1L462 1798.9L462 1805.3L390 1845.5ZM462 1798.9L570 1798.9L570 1805.3L462 1805.3ZM570 1798.9L731.7 1853.1L731.7 1859.5L570 1805.3ZM731.7 1853.1L974.3 1956L974.3 1962.4L731.7 1859.5ZM974.3 1956L1313.5 2098.3L1313.5 2104.7L974.3 1962.4ZM1313.5 2098.3L1652.7 2195.4L1652.7 2201.8L1313.5 2104.7Z"/><g class="md"><use href="#md" x="246.6" y="2623.3"/><use href="#md" x="246.7" y="2518.2"/><use href="#md" x="246.9" y="2468.1"/><use href="#md" x="247.7" y="2423.7"/><use href="#md" x="249" y="2373.7"/><use href="#md" x="251.4" y="2323.6"/><use href="#md" x="256.3" y="2262.8"/><use href="#md" x="263.5" y="2201.2"/><use href="#md" x="273.5" y="2130.6"/><use href="#md" x="287.4" y="2056.7"/><use href="#md" x="307.8" y="1980.3"/><use href="#md" x="340.6" y="1907.2"/><use href="#md" x="390" y="1842.3"/><use href="#md" x="462" y="1802.1"/><use href="#md" x="570" y="1802.1"/><use href="#md" x="731.7" y="1856.3"/><use href="#md" x="974.3" y="1959.2"/><use href="#md" x="1313.5" y="2101.5"/></g></g>
<g fill="#0000ff"><path d="M243.4 2623.3L243.5 2521.1L249.9 2521.1L249.8 2623.3ZM243.5 2521.1L243.7 2472.4L250.1 2472.4L249.9 2521.1ZM243.7 2472.4L244.5 2429.3L250.9 2429.3L250.1 2472.4ZM244.5 2429.3L246 2380.6L252.4 2380.6L250.9 2429.3ZM246 2380.6L248.6 2331.9L255 2331.9L252.4 2380.6ZM248.6 2331.9L253.7 2272.8L260.1 2272.8L255 2331.9ZM253.7 2272.8L261.5 2212.9L267.9 2212.9L260.1 2272.8ZM261.5 2212.9L272.1 2144.2L278.5 2144.2L267.9 2212.9ZM272.1 2144.2L287 2072.4L293.4 2072.4L278.5 2144.2ZM287 2072.4L308.7 1998.1L315.1 1998.1L293.4 2072.4ZM308.7 1998.1L343.7 1927L350.1 1927L315.1 1998.1ZM343.7 1927L396.4 1864L402.8 1864L350.1 1927ZM399.6 1860.8L476.5 1821.6L476.5 1828L399.6 1867.2ZM476.5 1821.6L591.7 1821.6L591.7 1828L476.5 1828ZM591.7 1821.6L764.2 1873.5L764.2 1879.9L591.7 1828ZM764.2 1873.5L1023 1976.3L1023 1982.7L764.2 1879.9ZM1023 1976.3L1362.2 2095.6L1362.2 2102L1023 1982.7ZM1362.2 2095.6L1701.4 2192.6L1701.4 2199L1362.2 2102Z"/><g class="md"><use href="#md" x="246.6" y="2623.3"/><use href="#md" x="246.7" y="2521.1"/><use href="#md" x="246.9" y="2472.4"/><use href="#md" x="247.7" y="2429.3"/><use href="#md" x="249.2" y="2380.6"/><use href="#md" x="251.8" y="2331.9"/><use href="#md" x="256.9" y="2272.8"/><use href="#md" x="264.7" y="2212.9"/><use href="#md" x="275.3" y="2144.2"/><use href="#md" x="290.2" y="2072.4"/><use href="#md" x="311.9" y="1998.1"/><use href="#md" x="346.9" y="1927"/><use href="#md" x="399.6" y="1864"/><use href="#md" x="476.5" y="1824.8"/><use href="#md" x="591.7" y="1824.8"/><use href="#md" x="764.2" y="1876.7"/><use href="#md" x="1023" y="1979.5"/><use href="#md" x="1362.2" y="2098.8"/></g></g>
<g fill="#00ff00"><path d="M243.4 2623.3L243.5 2541.9L249.9 2541.9L249.8 2623.3ZM243.5 2541.9L243.7 2503.1L250.1 2503.1L249.9 2541.9ZM243.7 2503.1L244.6 2468.8L251 2468.8L250.1 2503.1ZM244.6 2468.8L246.2 2430L252.6 2430L251 2468.8ZM246.2 2430L249 2391.2L255.4 2391.2L252.6 2430ZM249 2391.2L254.5 2344.1L260.9 2344.1L255.4 2391.2ZM254.5 2344.1L262.8 2296.4L269.2 2296.4L260.9 2344.1ZM262.8 2296.4L274.3 2241.7L280.7 2241.7L269.2 2296.4ZM274.3 2241.7L290.3 2184.5L296.7 2184.5L280.7 2241.7ZM290.3 2184.5L313.8 2125.3L320.2 2125.3L296.7 2184.5ZM313.8 2125.3L351.4 2068.7L357.8 2068.7L320.2 2125.3ZM354.6 2065.5L411.4 2015.3L411.4 2021.7L354.6 2071.9ZM411.4 2015.3L494.1 1984.1L494.1 1990.5L411.4 2021.7ZM494.1 1984.1L618.2 1984.1L618.2 1990.5L494.1 1990.5ZM618.2 1984.1L804 2025.4L804 2031.8L618.2 1990.5ZM804 2025.4L1082.7 2104.2L1082.7 2110.6L804 2031.8ZM1082.7 2104.2L1421.9 2193.2L1421.9 2199.6L1082.7 2110.6ZM1421.9 2193.2L1761.1 2265.6L1761.1 2272L1421.9 2199.6Z"/><g class="md"><use href="#md" x="246.6" y="2623.3"/><use href="#md" x="246.7" y="2541.9"/><use href="#md" x="246.9" y="2503.1"/><use href="#md" x="247.8" y="2468.8"/><use href="#md" x="249.4" y="2430"/><use href="#md" x="252.2" y="2391.2"/><use href="#md" x="257.7" y="2344.1"/><use href="#md" x="266" y="2296.4"/><use href="#md" x="277.5" y="2241.7"/><use href="#md" x="293.5" y="2184.5"/><use href="#md" x="317" y="2125.3"/><use href="#md" x="354.6" y="2068.7"/><use href="#md" x="411.4" y="2018.5"/><use href="#md" x="494.1" y="1987.3"/><use href="#md" x="618.2" y="1987.3"/><use href="#md" x="804" y="2028.6"/><use href="#md" x="1082.7" y="2107.4"/><use href="#md" x="1421.9" y="2196.4"/></g></g>
<g fill="#ff00ff"><path d="M243.4 2623.3L243.5 2564.1L249.9 2564.1L249.8 2623.3ZM243.5 2564.1L243.7 2535.8L250.1 2535.8L249.9 2564.1ZM243.7 2535.8L244.8 2510.8L251.2 2510.8L250.1 2535.8ZM244.8 2510.8L246.5 2482.6L252.9 2482.6L251.2 2510.8ZM246.5 2482.6L249.5 2454.4L255.9 2454.4L252.9 2482.6ZM249.5 2454.4L255.6 2420.1L262 2420.1L255.9 2454.4ZM255.6 2420.1L264.8 2385.4L271.2 2385.4L262 2420.1ZM264.8 2385.4L277.3 2345.6L283.7 2345.6L271.2 2385.4ZM277.3 2345.6L295 2303.9L301.4 2303.9L283.7 2345.6ZM295 2303.9L320.7 2260.9L327.1 2260.9L301.4 2303.9ZM323.9 2257.7L365.3 2216.5L365.3 2222.9L323.9 2264.1ZM365.3 2216.5L427.7 2179.9L427.7 2186.3L365.3 2222.9ZM427.7 2179.9L518.6 2157.2L518.6 2163.6L427.7 2186.3ZM518.6 2157.2L655 2157.2L655 2163.6L518.6 2163.6ZM655 2157.2L859.2 2184.1L859.2 2190.5L655 2163.6ZM859.2 2184.1L1165.4 2241.1L1165.4 2247.5L859.2 2190.5ZM1165.4 2241.1L1504.6 2299.8L1504.6 2306.2L1165.4 2247.5ZM1504.6 2299.8L1843.8 2349.6L1843.8 2356L1504.6 2306.2Z"/><g class="md"><use href="#md" x="246.6" y="2623.3"/><use href="#md" x="246.7" y="2564.1"/><use href="#md" x="246.9" y="2535.8"/><use href="#md" x="248" y="2510.8"/><use href="#md" x="249.7" y="2482.6"/><use href="#md" x="252.7" y="2454.4"/><use href="#md" x="258.8" y="2420.1"/><use href="#md" x="268" y="2385.4"/><use href="#md" x="280.5" y="2345.6"/><use href="#md" x="298.2" y="2303.9"/><use href="#md" x="323.9" y="2260.9"/><use href="#md" x="365.3" y="2219.7"/><use href="#md" x="427.7" y="2183.1"/><use href="#md" x="518.6" y="2160.4"/><use href="#md" x="655" y="2160.4"/><use href="#md" x="859.2" y="2187.3"/><use href="#md" x="1165.4" y="2244.3"/><use href="#md" x="1504.6" y="2303"/></g></g></g>
<text class="cap" x="899.5" y="2864.4" text-anchor="middle">(<tspan class="b">b</tspan>)</text>
</svg>
</body></html>
